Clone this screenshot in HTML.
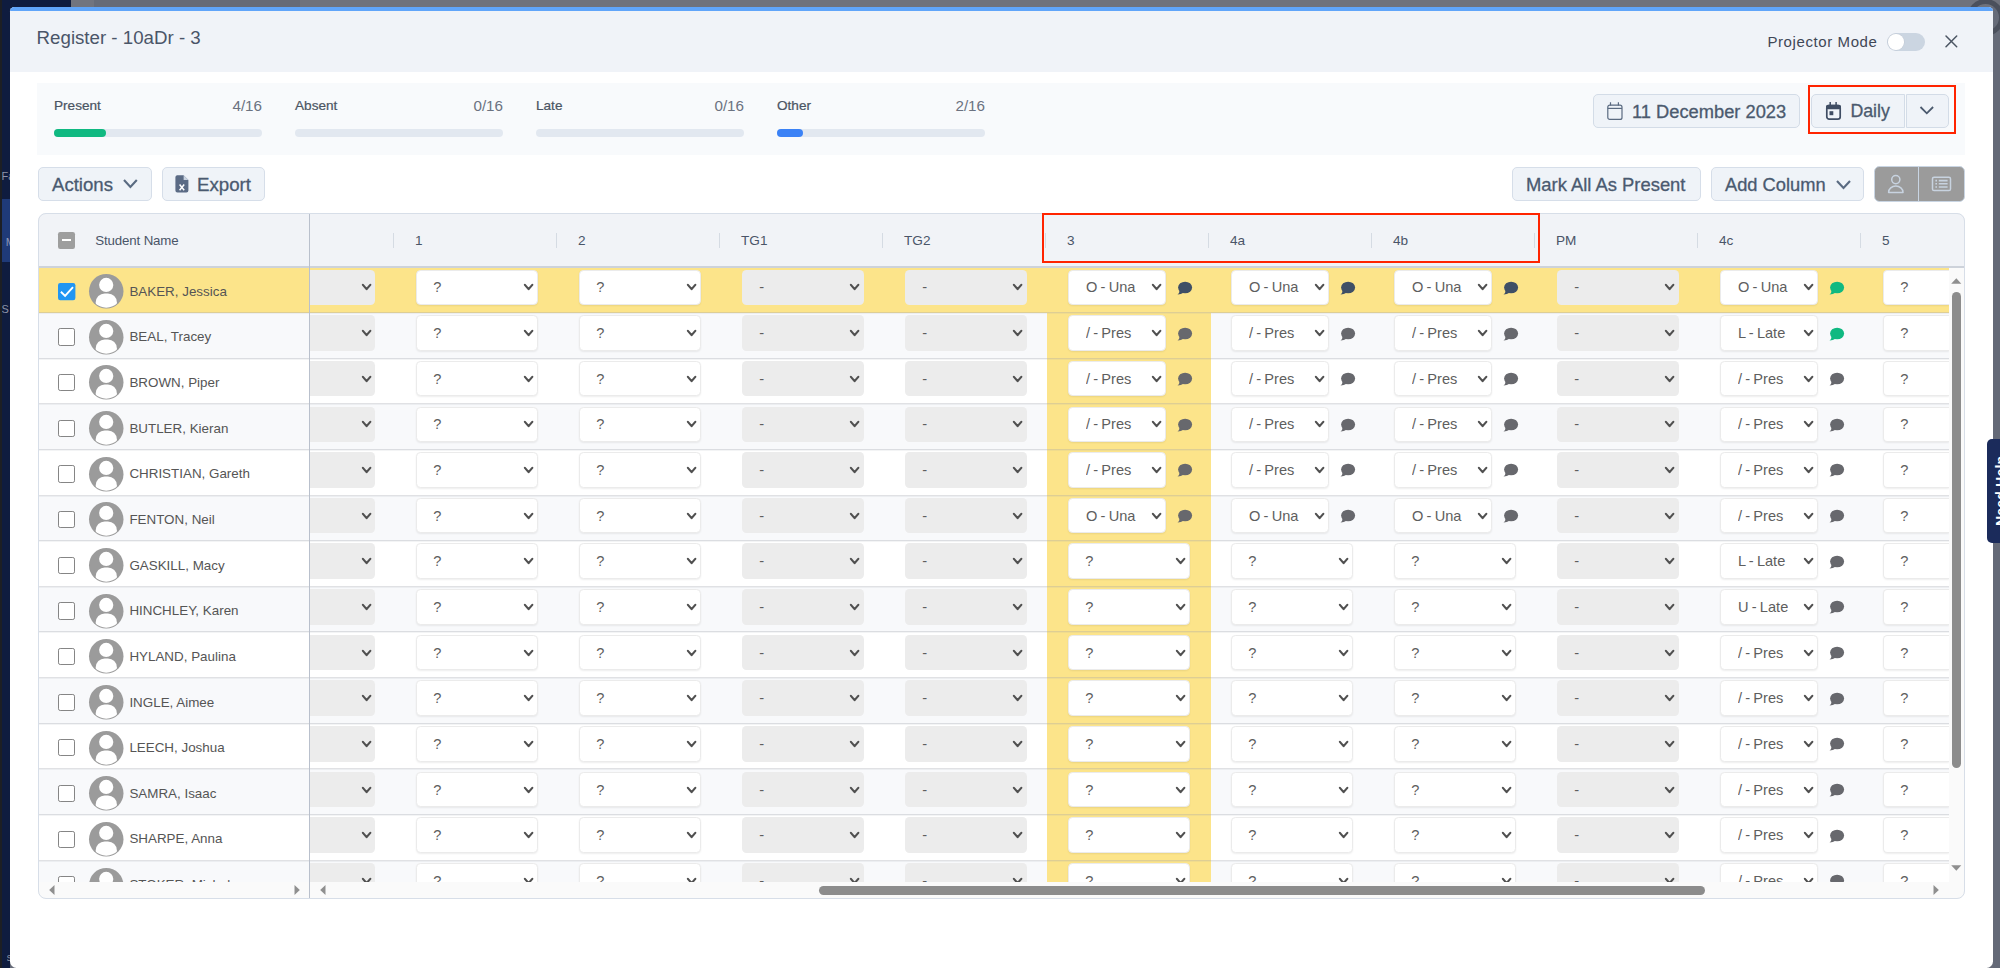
<!DOCTYPE html>
<html><head><meta charset="utf-8"><title>Register - 10aDr - 3</title>
<style>
html,body{margin:0;padding:0;width:2000px;height:968px;overflow:hidden;background:#666b78}
body{position:relative;font-family:"Liberation Sans", Arial, sans-serif}
.a{position:absolute}
.t{position:absolute;line-height:1;white-space:nowrap}
svg.a{overflow:visible}
</style></head><body>
<div class="a" style="left:0px;top:0px;width:2000px;height:968px;background:#666b78"></div>
<div class="a" style="left:71px;top:0px;width:23px;height:7px;background:#71747f"></div>
<div class="a" style="left:300px;top:0px;width:1700px;height:7px;background:#6f727c"></div>
<div class="a" style="left:0px;top:0px;width:10px;height:968px;background:#0f1c3f"></div>
<div class="a" style="left:0px;top:0px;width:71px;height:12px;background:#0f1c3f"></div>
<div class="a" style="left:0px;top:0px;width:1.5px;height:968px;background:#1d1f24"></div>
<div class="a" style="left:1.5px;top:199px;width:8.5px;height:63px;background:#1f3a78"></div>
<div class="t" style="left:1.5px;top:170.69px;font-size:11px;color:#8d93a6;font-weight:400;width:8.5px;overflow:hidden;">Fa</div>
<div class="t" style="left:5.7px;top:236.89px;font-size:11px;color:#8d98b8;font-weight:400;width:4.3px;overflow:hidden;">M</div>
<div class="t" style="left:1.5px;top:303.69px;font-size:11px;color:#8d93a6;font-weight:400;width:8.5px;overflow:hidden;">S</div>
<div class="t" style="left:6.5px;top:954.38px;font-size:9px;color:#8d93a6;font-weight:400;width:3.5px;overflow:hidden;">S</div>
<div class="a" style="left:1967px;top:-1px;width:27px;height:27px;border:5.5px solid #4b505c;border-radius:50%"></div>
<div class="a" style="left:1993px;top:50px;width:7px;height:918px;background:#646977"></div>
<div class="a" style="left:10px;top:7px;width:1983px;height:961.3px;background:#fff;border-radius:4.5px 4.5px 6.5px 6.5px;overflow:hidden"><div class="a" style="left:0;top:0;width:1983px;height:4.2px;background:#60a5fa"></div><div class="a" style="left:0;top:4.2px;width:1983px;height:60.8px;background:#f0f3f8"></div></div>
<div class="a" style="left:1987px;top:438.6px;width:20px;height:104.4px;background:#1b2b5b;border-radius:5px;overflow:hidden"><div class="t" style="left:7.3px;top:87.7px;font-size:14px;font-weight:700;color:#fff;transform:rotate(-90deg);transform-origin:0 0;white-space:nowrap;letter-spacing:0.2px">Need Help</div></div>
<div class="t" style="left:36.6px;top:28.77px;font-size:18.7px;color:#4a5568;font-weight:400;">Register - 10aDr - 3</div>
<div class="t" style="right:122.5px;text-align:right;top:33.9px;font-size:15px;color:#3f4756;font-weight:400;letter-spacing:0.6px;">Projector Mode</div>
<div class="a" style="left:1887px;top:32.5px;width:38px;height:18.5px;border-radius:9.25px;background:#cbd5e1"></div>
<div class="a" style="left:1888.4px;top:34px;width:15.5px;height:15.5px;border-radius:50%;background:#fff;box-shadow:0 0 0 0.5px #c0c8d4"></div>
<svg class="a" style="left:1944px;top:34px" width="15" height="15" viewBox="0 0 15 15"><path d="M2 2 L12.7 12.7 M12.7 2 L2 12.7" stroke="#4b5563" stroke-width="1.5" stroke-linecap="round"/></svg>
<div class="a" style="left:37px;top:82.5px;width:1928px;height:72px;background:#f8fafc"></div>
<div class="t" style="left:54px;top:99.49px;font-size:13.6px;color:#4b5563;font-weight:400;-webkit-text-stroke:0.22px #4b5563;">Present</div>
<div class="t" style="right:1738px;text-align:right;top:98.13px;font-size:15.2px;color:#6b7280;font-weight:400;">4/16</div>
<div class="a" style="left:54px;top:128.5px;width:208px;height:8.5px;background:#e2e8f0;border-radius:5px"></div>
<div class="a" style="left:54px;top:128.5px;width:52px;height:8.5px;background:#10b981;border-radius:5px"></div>
<div class="t" style="left:295px;top:99.49px;font-size:13.6px;color:#4b5563;font-weight:400;-webkit-text-stroke:0.22px #4b5563;">Absent</div>
<div class="t" style="right:1497px;text-align:right;top:98.13px;font-size:15.2px;color:#6b7280;font-weight:400;">0/16</div>
<div class="a" style="left:295px;top:128.5px;width:208px;height:8.5px;background:#e2e8f0;border-radius:5px"></div>
<div class="t" style="left:536px;top:99.49px;font-size:13.6px;color:#4b5563;font-weight:400;-webkit-text-stroke:0.22px #4b5563;">Late</div>
<div class="t" style="right:1256px;text-align:right;top:98.13px;font-size:15.2px;color:#6b7280;font-weight:400;">0/16</div>
<div class="a" style="left:536px;top:128.5px;width:208px;height:8.5px;background:#e2e8f0;border-radius:5px"></div>
<div class="t" style="left:777px;top:99.49px;font-size:13.6px;color:#4b5563;font-weight:400;-webkit-text-stroke:0.22px #4b5563;">Other</div>
<div class="t" style="right:1015px;text-align:right;top:98.13px;font-size:15.2px;color:#6b7280;font-weight:400;">2/16</div>
<div class="a" style="left:777px;top:128.5px;width:208px;height:8.5px;background:#e2e8f0;border-radius:5px"></div>
<div class="a" style="left:777px;top:128.5px;width:26px;height:8.5px;background:#3b82f6;border-radius:5px"></div>
<div class="a" style="left:1593px;top:94px;width:207px;height:34px;background:#eff3f8;border:1px solid #d3dce7;border-radius:5px;box-sizing:border-box"></div>
<svg class="a" style="left:1606px;top:101px" width="18" height="20" viewBox="0 0 18 20"><rect x="1.8" y="4.2" width="14.2" height="14.2" rx="2" fill="none" stroke="#5a6a80" stroke-width="1.2"/><path d="M1.8 7.4 H16" stroke="#5a6a80" stroke-width="1.2"/><path d="M4.5 1.2 V4.5 M12.4 1.2 V4.5" stroke="#5a6a80" stroke-width="1.2"/></svg>
<div class="t" style="left:1632px;top:102.81px;font-size:18.3px;color:#4b5a6e;font-weight:400;-webkit-text-stroke:0.3px #4b5a6e;">11 December 2023</div>
<div class="a" style="left:1811px;top:94px;width:94px;height:34px;background:#eff3f8;border:1px solid #d3dce7;border-radius:5px 0 0 5px;box-sizing:border-box"></div>
<div class="a" style="left:1906px;top:94px;width:43px;height:34px;background:#eff3f8;border:1px solid #d3dce7;border-radius:0 5px 5px 0;box-sizing:border-box"></div>
<svg class="a" style="left:1825px;top:101px" width="18" height="20" viewBox="0 0 18 20"><rect x="1.8" y="4.6" width="13.4" height="13.6" rx="2.4" fill="none" stroke="#3f4d63" stroke-width="1.7"/><rect x="1" y="3.8" width="15" height="4.4" rx="2" fill="#3f4d63"/><rect x="4.5" y="10.2" width="3.8" height="4" fill="#3f4d63"/><path d="M5.2 1 V4.5 M11.1 1 V4.5" stroke="#3f4d63" stroke-width="1.5"/></svg>
<div class="t" style="left:1850.4px;top:103.23px;font-size:17.8px;color:#4b5a6e;font-weight:400;-webkit-text-stroke:0.3px #4b5a6e;">Daily</div>
<svg class="a" style="left:1919px;top:105px" width="16" height="11" viewBox="0 0 16 11"><path d="M1.5 2 L7.8 8.3 L14.1 2" fill="none" stroke="#4b5a6e" stroke-width="1.8"/></svg>
<div class="a" style="left:1807.7px;top:84.7px;width:148.6px;height:49.6px;border:2.6px solid #ff2400;box-sizing:border-box"></div>
<div class="a" style="left:37.5px;top:166.5px;width:114.5px;height:34px;background:#eff3f8;border:1.5px solid #d6dee9;border-radius:5px;box-sizing:border-box"></div>
<div class="t" style="left:52px;top:175.66px;font-size:18.6px;color:#4a5a70;font-weight:400;-webkit-text-stroke:0.3px #4a5a70;">Actions</div>
<svg class="a" style="left:123.3px;top:178.9px" width="14.8" height="9" viewBox="0 0 14.8 9"><path d="M1 1 L7.4 8 L13.8 1" fill="none" stroke="#5a6b82" stroke-width="2.1"/></svg>
<div class="a" style="left:161.5px;top:166.5px;width:103.5px;height:34px;background:#eff3f8;border:1.5px solid #d6dee9;border-radius:5px;box-sizing:border-box"></div>
<svg class="a" style="left:175px;top:175px" width="14" height="18" viewBox="0 0 14 18"><path d="M2 0.3 H8.6 L13.4 5 V15.6 A2 2 0 0 1 11.4 17.6 H2.4 A2 2 0 0 1 0.4 15.6 V2.3 A2 2 0 0 1 2 0.3 Z" fill="#5b6b85"/><path d="M8.6 0.3 V5 H13.4" fill="#c9d3e0"/><path d="M4.6 9.6 L9.2 15.2 M9.2 9.6 L4.6 15.2" stroke="#fff" stroke-width="1.5"/></svg>
<div class="t" style="left:197px;top:175.57px;font-size:18.7px;color:#4a5a70;font-weight:400;-webkit-text-stroke:0.3px #4a5a70;">Export</div>
<div class="a" style="left:1511.5px;top:166.5px;width:189.5px;height:34px;background:#eff3f8;border:1.5px solid #d6dee9;border-radius:5px;box-sizing:border-box"></div>
<div class="t" style="left:1526px;top:175.82px;font-size:18.4px;color:#4a5a70;font-weight:400;-webkit-text-stroke:0.3px #4a5a70;">Mark All As Present</div>
<div class="a" style="left:1710.5px;top:166.5px;width:153.5px;height:34px;background:#eff3f8;border:1.5px solid #d6dee9;border-radius:5px;box-sizing:border-box"></div>
<div class="t" style="left:1725px;top:175.91px;font-size:18.3px;color:#4a5a70;font-weight:400;-webkit-text-stroke:0.3px #4a5a70;">Add Column</div>
<svg class="a" style="left:1835.5px;top:179.8px" width="15" height="9" viewBox="0 0 15 9"><path d="M1 1 L7.5 8 L14 1" fill="none" stroke="#5a6b82" stroke-width="2.1"/></svg>
<div class="a" style="left:1874px;top:166px;width:90.5px;height:35.6px;background:#9b9b9b;border:1px solid #c9d5e3;border-radius:5.5px;box-sizing:border-box"></div>
<div class="a" style="left:1917.8px;top:166.5px;width:1.1px;height:34.2px;background:#c9d5e3"></div>
<svg class="a" style="left:1886px;top:174px" width="20" height="20" viewBox="0 0 20 20"><circle cx="9.8" cy="5.6" r="4.1" fill="none" stroke="#c8d3e0" stroke-width="1.5"/><path d="M2.6 18.4 A7.2 6.4 0 0 1 17 18.4 Z" fill="none" stroke="#c8d3e0" stroke-width="1.5" stroke-linejoin="round"/></svg>
<svg class="a" style="left:1930px;top:175px" width="23" height="18" viewBox="0 0 23 18"><rect x="2.5" y="2.2" width="18" height="13.3" rx="1.6" fill="none" stroke="#c8d3e0" stroke-width="1.5"/><path d="M5.4 5.6 H7 M8.8 5.6 H17.6 M5.4 8.8 H7 M8.8 8.8 H17.6 M5.4 12 H7 M8.8 12 H17.6" stroke="#c8d3e0" stroke-width="1.6"/></svg>
<div class="a" style="left:37.5px;top:212.8px;width:1927.5px;height:686.2px;overflow:hidden;border-radius:8px;background:#fff">
<div class="a" style="left:0px;top:0px;width:1927.5px;height:54.7px;background:#f1f3f7"></div>
<div class="a" style="left:0px;top:54.5px;width:1911px;height:45.65px;background:#fce48a"></div>
<div class="a" style="left:0px;top:100.15px;width:1911px;height:45.65px;background:#f8f9fb"></div>
<div class="a" style="left:0px;top:145.8px;width:1911px;height:45.65px;background:#ffffff"></div>
<div class="a" style="left:0px;top:191.45px;width:1911px;height:45.65px;background:#f8f9fb"></div>
<div class="a" style="left:0px;top:237.1px;width:1911px;height:45.65px;background:#ffffff"></div>
<div class="a" style="left:0px;top:282.75px;width:1911px;height:45.65px;background:#f8f9fb"></div>
<div class="a" style="left:0px;top:328.4px;width:1911px;height:45.65px;background:#ffffff"></div>
<div class="a" style="left:0px;top:374.05px;width:1911px;height:45.65px;background:#f8f9fb"></div>
<div class="a" style="left:0px;top:419.7px;width:1911px;height:45.65px;background:#ffffff"></div>
<div class="a" style="left:0px;top:465.35px;width:1911px;height:45.65px;background:#f8f9fb"></div>
<div class="a" style="left:0px;top:511px;width:1911px;height:45.65px;background:#ffffff"></div>
<div class="a" style="left:0px;top:556.65px;width:1911px;height:45.65px;background:#f8f9fb"></div>
<div class="a" style="left:0px;top:602.3px;width:1911px;height:45.65px;background:#ffffff"></div>
<div class="a" style="left:0px;top:647.95px;width:1911px;height:21.25px;background:#f8f9fb"></div>
<div class="a" style="left:1009.8px;top:54.7px;width:163.3px;height:614.5px;background:#fce48a"></div>
<div class="a" style="left:0px;top:99.15px;width:1911px;height:1px;background:rgba(160,162,170,0.32)"></div>
<div class="a" style="left:0px;top:100.15px;width:1911px;height:1px;background:rgba(160,162,170,0.12)"></div>
<div class="a" style="left:0px;top:144.8px;width:1911px;height:1px;background:rgba(160,162,170,0.32)"></div>
<div class="a" style="left:0px;top:145.8px;width:1911px;height:1px;background:rgba(160,162,170,0.12)"></div>
<div class="a" style="left:0px;top:190.45px;width:1911px;height:1px;background:rgba(160,162,170,0.32)"></div>
<div class="a" style="left:0px;top:191.45px;width:1911px;height:1px;background:rgba(160,162,170,0.12)"></div>
<div class="a" style="left:0px;top:236.1px;width:1911px;height:1px;background:rgba(160,162,170,0.32)"></div>
<div class="a" style="left:0px;top:237.1px;width:1911px;height:1px;background:rgba(160,162,170,0.12)"></div>
<div class="a" style="left:0px;top:281.75px;width:1911px;height:1px;background:rgba(160,162,170,0.32)"></div>
<div class="a" style="left:0px;top:282.75px;width:1911px;height:1px;background:rgba(160,162,170,0.12)"></div>
<div class="a" style="left:0px;top:327.4px;width:1911px;height:1px;background:rgba(160,162,170,0.32)"></div>
<div class="a" style="left:0px;top:328.4px;width:1911px;height:1px;background:rgba(160,162,170,0.12)"></div>
<div class="a" style="left:0px;top:373.05px;width:1911px;height:1px;background:rgba(160,162,170,0.32)"></div>
<div class="a" style="left:0px;top:374.05px;width:1911px;height:1px;background:rgba(160,162,170,0.12)"></div>
<div class="a" style="left:0px;top:418.7px;width:1911px;height:1px;background:rgba(160,162,170,0.32)"></div>
<div class="a" style="left:0px;top:419.7px;width:1911px;height:1px;background:rgba(160,162,170,0.12)"></div>
<div class="a" style="left:0px;top:464.35px;width:1911px;height:1px;background:rgba(160,162,170,0.32)"></div>
<div class="a" style="left:0px;top:465.35px;width:1911px;height:1px;background:rgba(160,162,170,0.12)"></div>
<div class="a" style="left:0px;top:510px;width:1911px;height:1px;background:rgba(160,162,170,0.32)"></div>
<div class="a" style="left:0px;top:511px;width:1911px;height:1px;background:rgba(160,162,170,0.12)"></div>
<div class="a" style="left:0px;top:555.65px;width:1911px;height:1px;background:rgba(160,162,170,0.32)"></div>
<div class="a" style="left:0px;top:556.65px;width:1911px;height:1px;background:rgba(160,162,170,0.12)"></div>
<div class="a" style="left:0px;top:601.3px;width:1911px;height:1px;background:rgba(160,162,170,0.32)"></div>
<div class="a" style="left:0px;top:602.3px;width:1911px;height:1px;background:rgba(160,162,170,0.12)"></div>
<div class="a" style="left:0px;top:646.95px;width:1911px;height:1px;background:rgba(160,162,170,0.32)"></div>
<div class="a" style="left:0px;top:647.95px;width:1911px;height:1px;background:rgba(160,162,170,0.12)"></div>
<div class="a" style="left:272.6px;top:56.8px;width:65.4px;height:35.6px;background:#ececec;border-radius:0px 4.5px 4.5px 0px"></div>
<svg class="a" style="left:324.4px;top:70.6px" width="10.4" height="8" viewBox="0 0 10.4 8"><path d="M0.9 1.85 L4.6 6.1 L8.3 1.85" fill="none" stroke="#505050" stroke-width="2.2" stroke-linecap="round" stroke-linejoin="round"/></svg>
<div class="a" style="left:378px;top:56.8px;width:122.5px;height:35.6px;background:#fff;border:1px solid #ebebeb;border-radius:4.5px 4.5px 4.5px 4.5px;box-sizing:border-box;box-shadow:0 1px 2px rgba(0,0,0,0.07)"></div>
<div class="t" style="left:395.8px;top:67.59px;font-size:14.6px;color:#5e5e5e;font-weight:400;">?</div>
<svg class="a" style="left:486.9px;top:70.6px" width="10.4" height="8" viewBox="0 0 10.4 8"><path d="M0.9 1.85 L4.6 6.1 L8.3 1.85" fill="none" stroke="#505050" stroke-width="2.2" stroke-linecap="round" stroke-linejoin="round"/></svg>
<div class="a" style="left:541px;top:56.8px;width:122.5px;height:35.6px;background:#fff;border:1px solid #ebebeb;border-radius:4.5px 4.5px 4.5px 4.5px;box-sizing:border-box;box-shadow:0 1px 2px rgba(0,0,0,0.07)"></div>
<div class="t" style="left:558.8px;top:67.59px;font-size:14.6px;color:#5e5e5e;font-weight:400;">?</div>
<svg class="a" style="left:649.9px;top:70.6px" width="10.4" height="8" viewBox="0 0 10.4 8"><path d="M0.9 1.85 L4.6 6.1 L8.3 1.85" fill="none" stroke="#505050" stroke-width="2.2" stroke-linecap="round" stroke-linejoin="round"/></svg>
<div class="a" style="left:704px;top:56.8px;width:122.5px;height:35.6px;background:#ececec;border-radius:4.5px 4.5px 4.5px 4.5px"></div>
<div class="t" style="left:721.8px;top:67.59px;font-size:14.6px;color:#5e5e5e;font-weight:400;">-</div>
<svg class="a" style="left:812.9px;top:70.6px" width="10.4" height="8" viewBox="0 0 10.4 8"><path d="M0.9 1.85 L4.6 6.1 L8.3 1.85" fill="none" stroke="#505050" stroke-width="2.2" stroke-linecap="round" stroke-linejoin="round"/></svg>
<div class="a" style="left:867px;top:56.8px;width:122.5px;height:35.6px;background:#ececec;border-radius:4.5px 4.5px 4.5px 4.5px"></div>
<div class="t" style="left:884.8px;top:67.59px;font-size:14.6px;color:#5e5e5e;font-weight:400;">-</div>
<svg class="a" style="left:975.9px;top:70.6px" width="10.4" height="8" viewBox="0 0 10.4 8"><path d="M0.9 1.85 L4.6 6.1 L8.3 1.85" fill="none" stroke="#505050" stroke-width="2.2" stroke-linecap="round" stroke-linejoin="round"/></svg>
<div class="a" style="left:1030.65px;top:56.8px;width:97.6px;height:35.6px;background:#fff;border:1px solid #ebebeb;border-radius:4.5px 4.5px 4.5px 4.5px;box-sizing:border-box;box-shadow:0 1px 2px rgba(0,0,0,0.07)"></div>
<div class="t" style="left:1048.45px;top:67.59px;font-size:14.6px;color:#5e5e5e;font-weight:400;width:49.6px;overflow:hidden;white-space:nowrap;word-spacing:-0.8px;">O - Una</div>
<svg class="a" style="left:1114.65px;top:70.6px" width="10.4" height="8" viewBox="0 0 10.4 8"><path d="M0.9 1.85 L4.6 6.1 L8.3 1.85" fill="none" stroke="#505050" stroke-width="2.2" stroke-linecap="round" stroke-linejoin="round"/></svg>
<svg class="a" style="left:1139.15px;top:68.1px" width="16" height="15" viewBox="0 0 16 15"><ellipse cx="8.1" cy="6.5" rx="7" ry="5.85" fill="#3f4f66"/><path d="M2.6 9.2 Q2.6 12 0.5 13.6 Q4.2 13.4 6.4 11.7 Z" fill="#3f4f66"/></svg>
<div class="a" style="left:1193.65px;top:56.8px;width:97.6px;height:35.6px;background:#fff;border:1px solid #ebebeb;border-radius:4.5px 4.5px 4.5px 4.5px;box-sizing:border-box;box-shadow:0 1px 2px rgba(0,0,0,0.07)"></div>
<div class="t" style="left:1211.45px;top:67.59px;font-size:14.6px;color:#5e5e5e;font-weight:400;width:49.6px;overflow:hidden;white-space:nowrap;word-spacing:-0.8px;">O - Una</div>
<svg class="a" style="left:1277.65px;top:70.6px" width="10.4" height="8" viewBox="0 0 10.4 8"><path d="M0.9 1.85 L4.6 6.1 L8.3 1.85" fill="none" stroke="#505050" stroke-width="2.2" stroke-linecap="round" stroke-linejoin="round"/></svg>
<svg class="a" style="left:1302.15px;top:68.1px" width="16" height="15" viewBox="0 0 16 15"><ellipse cx="8.1" cy="6.5" rx="7" ry="5.85" fill="#3f4f66"/><path d="M2.6 9.2 Q2.6 12 0.5 13.6 Q4.2 13.4 6.4 11.7 Z" fill="#3f4f66"/></svg>
<div class="a" style="left:1356.65px;top:56.8px;width:97.6px;height:35.6px;background:#fff;border:1px solid #ebebeb;border-radius:4.5px 4.5px 4.5px 4.5px;box-sizing:border-box;box-shadow:0 1px 2px rgba(0,0,0,0.07)"></div>
<div class="t" style="left:1374.45px;top:67.59px;font-size:14.6px;color:#5e5e5e;font-weight:400;width:49.6px;overflow:hidden;white-space:nowrap;word-spacing:-0.8px;">O - Una</div>
<svg class="a" style="left:1440.65px;top:70.6px" width="10.4" height="8" viewBox="0 0 10.4 8"><path d="M0.9 1.85 L4.6 6.1 L8.3 1.85" fill="none" stroke="#505050" stroke-width="2.2" stroke-linecap="round" stroke-linejoin="round"/></svg>
<svg class="a" style="left:1465.15px;top:68.1px" width="16" height="15" viewBox="0 0 16 15"><ellipse cx="8.1" cy="6.5" rx="7" ry="5.85" fill="#3f4f66"/><path d="M2.6 9.2 Q2.6 12 0.5 13.6 Q4.2 13.4 6.4 11.7 Z" fill="#3f4f66"/></svg>
<div class="a" style="left:1519px;top:56.8px;width:122.5px;height:35.6px;background:#ececec;border-radius:4.5px 4.5px 4.5px 4.5px"></div>
<div class="t" style="left:1536.8px;top:67.59px;font-size:14.6px;color:#5e5e5e;font-weight:400;">-</div>
<svg class="a" style="left:1627.9px;top:70.6px" width="10.4" height="8" viewBox="0 0 10.4 8"><path d="M0.9 1.85 L4.6 6.1 L8.3 1.85" fill="none" stroke="#505050" stroke-width="2.2" stroke-linecap="round" stroke-linejoin="round"/></svg>
<div class="a" style="left:1682.65px;top:56.8px;width:97.6px;height:35.6px;background:#fff;border:1px solid #ebebeb;border-radius:4.5px 4.5px 4.5px 4.5px;box-sizing:border-box;box-shadow:0 1px 2px rgba(0,0,0,0.07)"></div>
<div class="t" style="left:1700.45px;top:67.59px;font-size:14.6px;color:#5e5e5e;font-weight:400;width:49.6px;overflow:hidden;white-space:nowrap;word-spacing:-0.8px;">O - Una</div>
<svg class="a" style="left:1766.65px;top:70.6px" width="10.4" height="8" viewBox="0 0 10.4 8"><path d="M0.9 1.85 L4.6 6.1 L8.3 1.85" fill="none" stroke="#505050" stroke-width="2.2" stroke-linecap="round" stroke-linejoin="round"/></svg>
<svg class="a" style="left:1791.15px;top:68.1px" width="16" height="15" viewBox="0 0 16 15"><ellipse cx="8.1" cy="6.5" rx="7" ry="5.85" fill="#10b981"/><path d="M2.6 9.2 Q2.6 12 0.5 13.6 Q4.2 13.4 6.4 11.7 Z" fill="#10b981"/></svg>
<div class="a" style="left:1845px;top:56.8px;width:66px;height:35.6px;background:#fff;border:1px solid #ebebeb;border-radius:4.5px 0px 0px 4.5px;box-sizing:border-box;box-shadow:0 1px 2px rgba(0,0,0,0.07);border-right:none"></div>
<div class="t" style="left:1862.8px;top:67.59px;font-size:14.6px;color:#5e5e5e;font-weight:400;">?</div>
<div class="a" style="left:272.6px;top:102.45px;width:65.4px;height:35.6px;background:#ececec;border-radius:0px 4.5px 4.5px 0px"></div>
<svg class="a" style="left:324.4px;top:116.25px" width="10.4" height="8" viewBox="0 0 10.4 8"><path d="M0.9 1.85 L4.6 6.1 L8.3 1.85" fill="none" stroke="#505050" stroke-width="2.2" stroke-linecap="round" stroke-linejoin="round"/></svg>
<div class="a" style="left:378px;top:102.45px;width:122.5px;height:35.6px;background:#fff;border:1px solid #ebebeb;border-radius:4.5px 4.5px 4.5px 4.5px;box-sizing:border-box;box-shadow:0 1px 2px rgba(0,0,0,0.07)"></div>
<div class="t" style="left:395.8px;top:113.24px;font-size:14.6px;color:#5e5e5e;font-weight:400;">?</div>
<svg class="a" style="left:486.9px;top:116.25px" width="10.4" height="8" viewBox="0 0 10.4 8"><path d="M0.9 1.85 L4.6 6.1 L8.3 1.85" fill="none" stroke="#505050" stroke-width="2.2" stroke-linecap="round" stroke-linejoin="round"/></svg>
<div class="a" style="left:541px;top:102.45px;width:122.5px;height:35.6px;background:#fff;border:1px solid #ebebeb;border-radius:4.5px 4.5px 4.5px 4.5px;box-sizing:border-box;box-shadow:0 1px 2px rgba(0,0,0,0.07)"></div>
<div class="t" style="left:558.8px;top:113.24px;font-size:14.6px;color:#5e5e5e;font-weight:400;">?</div>
<svg class="a" style="left:649.9px;top:116.25px" width="10.4" height="8" viewBox="0 0 10.4 8"><path d="M0.9 1.85 L4.6 6.1 L8.3 1.85" fill="none" stroke="#505050" stroke-width="2.2" stroke-linecap="round" stroke-linejoin="round"/></svg>
<div class="a" style="left:704px;top:102.45px;width:122.5px;height:35.6px;background:#ececec;border-radius:4.5px 4.5px 4.5px 4.5px"></div>
<div class="t" style="left:721.8px;top:113.24px;font-size:14.6px;color:#5e5e5e;font-weight:400;">-</div>
<svg class="a" style="left:812.9px;top:116.25px" width="10.4" height="8" viewBox="0 0 10.4 8"><path d="M0.9 1.85 L4.6 6.1 L8.3 1.85" fill="none" stroke="#505050" stroke-width="2.2" stroke-linecap="round" stroke-linejoin="round"/></svg>
<div class="a" style="left:867px;top:102.45px;width:122.5px;height:35.6px;background:#ececec;border-radius:4.5px 4.5px 4.5px 4.5px"></div>
<div class="t" style="left:884.8px;top:113.24px;font-size:14.6px;color:#5e5e5e;font-weight:400;">-</div>
<svg class="a" style="left:975.9px;top:116.25px" width="10.4" height="8" viewBox="0 0 10.4 8"><path d="M0.9 1.85 L4.6 6.1 L8.3 1.85" fill="none" stroke="#505050" stroke-width="2.2" stroke-linecap="round" stroke-linejoin="round"/></svg>
<div class="a" style="left:1030.65px;top:102.45px;width:97.6px;height:35.6px;background:#fff;border:1px solid #ebebeb;border-radius:4.5px 4.5px 4.5px 4.5px;box-sizing:border-box;box-shadow:0 1px 2px rgba(0,0,0,0.07)"></div>
<div class="t" style="left:1048.45px;top:113.24px;font-size:14.6px;color:#5e5e5e;font-weight:400;width:49.6px;overflow:hidden;white-space:nowrap;word-spacing:-0.8px;">/ - Pres</div>
<svg class="a" style="left:1114.65px;top:116.25px" width="10.4" height="8" viewBox="0 0 10.4 8"><path d="M0.9 1.85 L4.6 6.1 L8.3 1.85" fill="none" stroke="#505050" stroke-width="2.2" stroke-linecap="round" stroke-linejoin="round"/></svg>
<svg class="a" style="left:1139.15px;top:113.75px" width="16" height="15" viewBox="0 0 16 15"><ellipse cx="8.1" cy="6.5" rx="7" ry="5.85" fill="#67686d"/><path d="M2.6 9.2 Q2.6 12 0.5 13.6 Q4.2 13.4 6.4 11.7 Z" fill="#67686d"/></svg>
<div class="a" style="left:1193.65px;top:102.45px;width:97.6px;height:35.6px;background:#fff;border:1px solid #ebebeb;border-radius:4.5px 4.5px 4.5px 4.5px;box-sizing:border-box;box-shadow:0 1px 2px rgba(0,0,0,0.07)"></div>
<div class="t" style="left:1211.45px;top:113.24px;font-size:14.6px;color:#5e5e5e;font-weight:400;width:49.6px;overflow:hidden;white-space:nowrap;word-spacing:-0.8px;">/ - Pres</div>
<svg class="a" style="left:1277.65px;top:116.25px" width="10.4" height="8" viewBox="0 0 10.4 8"><path d="M0.9 1.85 L4.6 6.1 L8.3 1.85" fill="none" stroke="#505050" stroke-width="2.2" stroke-linecap="round" stroke-linejoin="round"/></svg>
<svg class="a" style="left:1302.15px;top:113.75px" width="16" height="15" viewBox="0 0 16 15"><ellipse cx="8.1" cy="6.5" rx="7" ry="5.85" fill="#67686d"/><path d="M2.6 9.2 Q2.6 12 0.5 13.6 Q4.2 13.4 6.4 11.7 Z" fill="#67686d"/></svg>
<div class="a" style="left:1356.65px;top:102.45px;width:97.6px;height:35.6px;background:#fff;border:1px solid #ebebeb;border-radius:4.5px 4.5px 4.5px 4.5px;box-sizing:border-box;box-shadow:0 1px 2px rgba(0,0,0,0.07)"></div>
<div class="t" style="left:1374.45px;top:113.24px;font-size:14.6px;color:#5e5e5e;font-weight:400;width:49.6px;overflow:hidden;white-space:nowrap;word-spacing:-0.8px;">/ - Pres</div>
<svg class="a" style="left:1440.65px;top:116.25px" width="10.4" height="8" viewBox="0 0 10.4 8"><path d="M0.9 1.85 L4.6 6.1 L8.3 1.85" fill="none" stroke="#505050" stroke-width="2.2" stroke-linecap="round" stroke-linejoin="round"/></svg>
<svg class="a" style="left:1465.15px;top:113.75px" width="16" height="15" viewBox="0 0 16 15"><ellipse cx="8.1" cy="6.5" rx="7" ry="5.85" fill="#67686d"/><path d="M2.6 9.2 Q2.6 12 0.5 13.6 Q4.2 13.4 6.4 11.7 Z" fill="#67686d"/></svg>
<div class="a" style="left:1519px;top:102.45px;width:122.5px;height:35.6px;background:#ececec;border-radius:4.5px 4.5px 4.5px 4.5px"></div>
<div class="t" style="left:1536.8px;top:113.24px;font-size:14.6px;color:#5e5e5e;font-weight:400;">-</div>
<svg class="a" style="left:1627.9px;top:116.25px" width="10.4" height="8" viewBox="0 0 10.4 8"><path d="M0.9 1.85 L4.6 6.1 L8.3 1.85" fill="none" stroke="#505050" stroke-width="2.2" stroke-linecap="round" stroke-linejoin="round"/></svg>
<div class="a" style="left:1682.65px;top:102.45px;width:97.6px;height:35.6px;background:#fff;border:1px solid #ebebeb;border-radius:4.5px 4.5px 4.5px 4.5px;box-sizing:border-box;box-shadow:0 1px 2px rgba(0,0,0,0.07)"></div>
<div class="t" style="left:1700.45px;top:113.24px;font-size:14.6px;color:#5e5e5e;font-weight:400;width:49.6px;overflow:hidden;white-space:nowrap;word-spacing:-0.8px;">L - Late</div>
<svg class="a" style="left:1766.65px;top:116.25px" width="10.4" height="8" viewBox="0 0 10.4 8"><path d="M0.9 1.85 L4.6 6.1 L8.3 1.85" fill="none" stroke="#505050" stroke-width="2.2" stroke-linecap="round" stroke-linejoin="round"/></svg>
<svg class="a" style="left:1791.15px;top:113.75px" width="16" height="15" viewBox="0 0 16 15"><ellipse cx="8.1" cy="6.5" rx="7" ry="5.85" fill="#10b981"/><path d="M2.6 9.2 Q2.6 12 0.5 13.6 Q4.2 13.4 6.4 11.7 Z" fill="#10b981"/></svg>
<div class="a" style="left:1845px;top:102.45px;width:66px;height:35.6px;background:#fff;border:1px solid #ebebeb;border-radius:4.5px 0px 0px 4.5px;box-sizing:border-box;box-shadow:0 1px 2px rgba(0,0,0,0.07);border-right:none"></div>
<div class="t" style="left:1862.8px;top:113.24px;font-size:14.6px;color:#5e5e5e;font-weight:400;">?</div>
<div class="a" style="left:272.6px;top:148.1px;width:65.4px;height:35.6px;background:#ececec;border-radius:0px 4.5px 4.5px 0px"></div>
<svg class="a" style="left:324.4px;top:161.9px" width="10.4" height="8" viewBox="0 0 10.4 8"><path d="M0.9 1.85 L4.6 6.1 L8.3 1.85" fill="none" stroke="#505050" stroke-width="2.2" stroke-linecap="round" stroke-linejoin="round"/></svg>
<div class="a" style="left:378px;top:148.1px;width:122.5px;height:35.6px;background:#fff;border:1px solid #ebebeb;border-radius:4.5px 4.5px 4.5px 4.5px;box-sizing:border-box;box-shadow:0 1px 2px rgba(0,0,0,0.07)"></div>
<div class="t" style="left:395.8px;top:158.89px;font-size:14.6px;color:#5e5e5e;font-weight:400;">?</div>
<svg class="a" style="left:486.9px;top:161.9px" width="10.4" height="8" viewBox="0 0 10.4 8"><path d="M0.9 1.85 L4.6 6.1 L8.3 1.85" fill="none" stroke="#505050" stroke-width="2.2" stroke-linecap="round" stroke-linejoin="round"/></svg>
<div class="a" style="left:541px;top:148.1px;width:122.5px;height:35.6px;background:#fff;border:1px solid #ebebeb;border-radius:4.5px 4.5px 4.5px 4.5px;box-sizing:border-box;box-shadow:0 1px 2px rgba(0,0,0,0.07)"></div>
<div class="t" style="left:558.8px;top:158.89px;font-size:14.6px;color:#5e5e5e;font-weight:400;">?</div>
<svg class="a" style="left:649.9px;top:161.9px" width="10.4" height="8" viewBox="0 0 10.4 8"><path d="M0.9 1.85 L4.6 6.1 L8.3 1.85" fill="none" stroke="#505050" stroke-width="2.2" stroke-linecap="round" stroke-linejoin="round"/></svg>
<div class="a" style="left:704px;top:148.1px;width:122.5px;height:35.6px;background:#ececec;border-radius:4.5px 4.5px 4.5px 4.5px"></div>
<div class="t" style="left:721.8px;top:158.89px;font-size:14.6px;color:#5e5e5e;font-weight:400;">-</div>
<svg class="a" style="left:812.9px;top:161.9px" width="10.4" height="8" viewBox="0 0 10.4 8"><path d="M0.9 1.85 L4.6 6.1 L8.3 1.85" fill="none" stroke="#505050" stroke-width="2.2" stroke-linecap="round" stroke-linejoin="round"/></svg>
<div class="a" style="left:867px;top:148.1px;width:122.5px;height:35.6px;background:#ececec;border-radius:4.5px 4.5px 4.5px 4.5px"></div>
<div class="t" style="left:884.8px;top:158.89px;font-size:14.6px;color:#5e5e5e;font-weight:400;">-</div>
<svg class="a" style="left:975.9px;top:161.9px" width="10.4" height="8" viewBox="0 0 10.4 8"><path d="M0.9 1.85 L4.6 6.1 L8.3 1.85" fill="none" stroke="#505050" stroke-width="2.2" stroke-linecap="round" stroke-linejoin="round"/></svg>
<div class="a" style="left:1030.65px;top:148.1px;width:97.6px;height:35.6px;background:#fff;border:1px solid #ebebeb;border-radius:4.5px 4.5px 4.5px 4.5px;box-sizing:border-box;box-shadow:0 1px 2px rgba(0,0,0,0.07)"></div>
<div class="t" style="left:1048.45px;top:158.89px;font-size:14.6px;color:#5e5e5e;font-weight:400;width:49.6px;overflow:hidden;white-space:nowrap;word-spacing:-0.8px;">/ - Pres</div>
<svg class="a" style="left:1114.65px;top:161.9px" width="10.4" height="8" viewBox="0 0 10.4 8"><path d="M0.9 1.85 L4.6 6.1 L8.3 1.85" fill="none" stroke="#505050" stroke-width="2.2" stroke-linecap="round" stroke-linejoin="round"/></svg>
<svg class="a" style="left:1139.15px;top:159.4px" width="16" height="15" viewBox="0 0 16 15"><ellipse cx="8.1" cy="6.5" rx="7" ry="5.85" fill="#67686d"/><path d="M2.6 9.2 Q2.6 12 0.5 13.6 Q4.2 13.4 6.4 11.7 Z" fill="#67686d"/></svg>
<div class="a" style="left:1193.65px;top:148.1px;width:97.6px;height:35.6px;background:#fff;border:1px solid #ebebeb;border-radius:4.5px 4.5px 4.5px 4.5px;box-sizing:border-box;box-shadow:0 1px 2px rgba(0,0,0,0.07)"></div>
<div class="t" style="left:1211.45px;top:158.89px;font-size:14.6px;color:#5e5e5e;font-weight:400;width:49.6px;overflow:hidden;white-space:nowrap;word-spacing:-0.8px;">/ - Pres</div>
<svg class="a" style="left:1277.65px;top:161.9px" width="10.4" height="8" viewBox="0 0 10.4 8"><path d="M0.9 1.85 L4.6 6.1 L8.3 1.85" fill="none" stroke="#505050" stroke-width="2.2" stroke-linecap="round" stroke-linejoin="round"/></svg>
<svg class="a" style="left:1302.15px;top:159.4px" width="16" height="15" viewBox="0 0 16 15"><ellipse cx="8.1" cy="6.5" rx="7" ry="5.85" fill="#67686d"/><path d="M2.6 9.2 Q2.6 12 0.5 13.6 Q4.2 13.4 6.4 11.7 Z" fill="#67686d"/></svg>
<div class="a" style="left:1356.65px;top:148.1px;width:97.6px;height:35.6px;background:#fff;border:1px solid #ebebeb;border-radius:4.5px 4.5px 4.5px 4.5px;box-sizing:border-box;box-shadow:0 1px 2px rgba(0,0,0,0.07)"></div>
<div class="t" style="left:1374.45px;top:158.89px;font-size:14.6px;color:#5e5e5e;font-weight:400;width:49.6px;overflow:hidden;white-space:nowrap;word-spacing:-0.8px;">/ - Pres</div>
<svg class="a" style="left:1440.65px;top:161.9px" width="10.4" height="8" viewBox="0 0 10.4 8"><path d="M0.9 1.85 L4.6 6.1 L8.3 1.85" fill="none" stroke="#505050" stroke-width="2.2" stroke-linecap="round" stroke-linejoin="round"/></svg>
<svg class="a" style="left:1465.15px;top:159.4px" width="16" height="15" viewBox="0 0 16 15"><ellipse cx="8.1" cy="6.5" rx="7" ry="5.85" fill="#67686d"/><path d="M2.6 9.2 Q2.6 12 0.5 13.6 Q4.2 13.4 6.4 11.7 Z" fill="#67686d"/></svg>
<div class="a" style="left:1519px;top:148.1px;width:122.5px;height:35.6px;background:#ececec;border-radius:4.5px 4.5px 4.5px 4.5px"></div>
<div class="t" style="left:1536.8px;top:158.89px;font-size:14.6px;color:#5e5e5e;font-weight:400;">-</div>
<svg class="a" style="left:1627.9px;top:161.9px" width="10.4" height="8" viewBox="0 0 10.4 8"><path d="M0.9 1.85 L4.6 6.1 L8.3 1.85" fill="none" stroke="#505050" stroke-width="2.2" stroke-linecap="round" stroke-linejoin="round"/></svg>
<div class="a" style="left:1682.65px;top:148.1px;width:97.6px;height:35.6px;background:#fff;border:1px solid #ebebeb;border-radius:4.5px 4.5px 4.5px 4.5px;box-sizing:border-box;box-shadow:0 1px 2px rgba(0,0,0,0.07)"></div>
<div class="t" style="left:1700.45px;top:158.89px;font-size:14.6px;color:#5e5e5e;font-weight:400;width:49.6px;overflow:hidden;white-space:nowrap;word-spacing:-0.8px;">/ - Pres</div>
<svg class="a" style="left:1766.65px;top:161.9px" width="10.4" height="8" viewBox="0 0 10.4 8"><path d="M0.9 1.85 L4.6 6.1 L8.3 1.85" fill="none" stroke="#505050" stroke-width="2.2" stroke-linecap="round" stroke-linejoin="round"/></svg>
<svg class="a" style="left:1791.15px;top:159.4px" width="16" height="15" viewBox="0 0 16 15"><ellipse cx="8.1" cy="6.5" rx="7" ry="5.85" fill="#67686d"/><path d="M2.6 9.2 Q2.6 12 0.5 13.6 Q4.2 13.4 6.4 11.7 Z" fill="#67686d"/></svg>
<div class="a" style="left:1845px;top:148.1px;width:66px;height:35.6px;background:#fff;border:1px solid #ebebeb;border-radius:4.5px 0px 0px 4.5px;box-sizing:border-box;box-shadow:0 1px 2px rgba(0,0,0,0.07);border-right:none"></div>
<div class="t" style="left:1862.8px;top:158.89px;font-size:14.6px;color:#5e5e5e;font-weight:400;">?</div>
<div class="a" style="left:272.6px;top:193.75px;width:65.4px;height:35.6px;background:#ececec;border-radius:0px 4.5px 4.5px 0px"></div>
<svg class="a" style="left:324.4px;top:207.55px" width="10.4" height="8" viewBox="0 0 10.4 8"><path d="M0.9 1.85 L4.6 6.1 L8.3 1.85" fill="none" stroke="#505050" stroke-width="2.2" stroke-linecap="round" stroke-linejoin="round"/></svg>
<div class="a" style="left:378px;top:193.75px;width:122.5px;height:35.6px;background:#fff;border:1px solid #ebebeb;border-radius:4.5px 4.5px 4.5px 4.5px;box-sizing:border-box;box-shadow:0 1px 2px rgba(0,0,0,0.07)"></div>
<div class="t" style="left:395.8px;top:204.54px;font-size:14.6px;color:#5e5e5e;font-weight:400;">?</div>
<svg class="a" style="left:486.9px;top:207.55px" width="10.4" height="8" viewBox="0 0 10.4 8"><path d="M0.9 1.85 L4.6 6.1 L8.3 1.85" fill="none" stroke="#505050" stroke-width="2.2" stroke-linecap="round" stroke-linejoin="round"/></svg>
<div class="a" style="left:541px;top:193.75px;width:122.5px;height:35.6px;background:#fff;border:1px solid #ebebeb;border-radius:4.5px 4.5px 4.5px 4.5px;box-sizing:border-box;box-shadow:0 1px 2px rgba(0,0,0,0.07)"></div>
<div class="t" style="left:558.8px;top:204.54px;font-size:14.6px;color:#5e5e5e;font-weight:400;">?</div>
<svg class="a" style="left:649.9px;top:207.55px" width="10.4" height="8" viewBox="0 0 10.4 8"><path d="M0.9 1.85 L4.6 6.1 L8.3 1.85" fill="none" stroke="#505050" stroke-width="2.2" stroke-linecap="round" stroke-linejoin="round"/></svg>
<div class="a" style="left:704px;top:193.75px;width:122.5px;height:35.6px;background:#ececec;border-radius:4.5px 4.5px 4.5px 4.5px"></div>
<div class="t" style="left:721.8px;top:204.54px;font-size:14.6px;color:#5e5e5e;font-weight:400;">-</div>
<svg class="a" style="left:812.9px;top:207.55px" width="10.4" height="8" viewBox="0 0 10.4 8"><path d="M0.9 1.85 L4.6 6.1 L8.3 1.85" fill="none" stroke="#505050" stroke-width="2.2" stroke-linecap="round" stroke-linejoin="round"/></svg>
<div class="a" style="left:867px;top:193.75px;width:122.5px;height:35.6px;background:#ececec;border-radius:4.5px 4.5px 4.5px 4.5px"></div>
<div class="t" style="left:884.8px;top:204.54px;font-size:14.6px;color:#5e5e5e;font-weight:400;">-</div>
<svg class="a" style="left:975.9px;top:207.55px" width="10.4" height="8" viewBox="0 0 10.4 8"><path d="M0.9 1.85 L4.6 6.1 L8.3 1.85" fill="none" stroke="#505050" stroke-width="2.2" stroke-linecap="round" stroke-linejoin="round"/></svg>
<div class="a" style="left:1030.65px;top:193.75px;width:97.6px;height:35.6px;background:#fff;border:1px solid #ebebeb;border-radius:4.5px 4.5px 4.5px 4.5px;box-sizing:border-box;box-shadow:0 1px 2px rgba(0,0,0,0.07)"></div>
<div class="t" style="left:1048.45px;top:204.54px;font-size:14.6px;color:#5e5e5e;font-weight:400;width:49.6px;overflow:hidden;white-space:nowrap;word-spacing:-0.8px;">/ - Pres</div>
<svg class="a" style="left:1114.65px;top:207.55px" width="10.4" height="8" viewBox="0 0 10.4 8"><path d="M0.9 1.85 L4.6 6.1 L8.3 1.85" fill="none" stroke="#505050" stroke-width="2.2" stroke-linecap="round" stroke-linejoin="round"/></svg>
<svg class="a" style="left:1139.15px;top:205.05px" width="16" height="15" viewBox="0 0 16 15"><ellipse cx="8.1" cy="6.5" rx="7" ry="5.85" fill="#67686d"/><path d="M2.6 9.2 Q2.6 12 0.5 13.6 Q4.2 13.4 6.4 11.7 Z" fill="#67686d"/></svg>
<div class="a" style="left:1193.65px;top:193.75px;width:97.6px;height:35.6px;background:#fff;border:1px solid #ebebeb;border-radius:4.5px 4.5px 4.5px 4.5px;box-sizing:border-box;box-shadow:0 1px 2px rgba(0,0,0,0.07)"></div>
<div class="t" style="left:1211.45px;top:204.54px;font-size:14.6px;color:#5e5e5e;font-weight:400;width:49.6px;overflow:hidden;white-space:nowrap;word-spacing:-0.8px;">/ - Pres</div>
<svg class="a" style="left:1277.65px;top:207.55px" width="10.4" height="8" viewBox="0 0 10.4 8"><path d="M0.9 1.85 L4.6 6.1 L8.3 1.85" fill="none" stroke="#505050" stroke-width="2.2" stroke-linecap="round" stroke-linejoin="round"/></svg>
<svg class="a" style="left:1302.15px;top:205.05px" width="16" height="15" viewBox="0 0 16 15"><ellipse cx="8.1" cy="6.5" rx="7" ry="5.85" fill="#67686d"/><path d="M2.6 9.2 Q2.6 12 0.5 13.6 Q4.2 13.4 6.4 11.7 Z" fill="#67686d"/></svg>
<div class="a" style="left:1356.65px;top:193.75px;width:97.6px;height:35.6px;background:#fff;border:1px solid #ebebeb;border-radius:4.5px 4.5px 4.5px 4.5px;box-sizing:border-box;box-shadow:0 1px 2px rgba(0,0,0,0.07)"></div>
<div class="t" style="left:1374.45px;top:204.54px;font-size:14.6px;color:#5e5e5e;font-weight:400;width:49.6px;overflow:hidden;white-space:nowrap;word-spacing:-0.8px;">/ - Pres</div>
<svg class="a" style="left:1440.65px;top:207.55px" width="10.4" height="8" viewBox="0 0 10.4 8"><path d="M0.9 1.85 L4.6 6.1 L8.3 1.85" fill="none" stroke="#505050" stroke-width="2.2" stroke-linecap="round" stroke-linejoin="round"/></svg>
<svg class="a" style="left:1465.15px;top:205.05px" width="16" height="15" viewBox="0 0 16 15"><ellipse cx="8.1" cy="6.5" rx="7" ry="5.85" fill="#67686d"/><path d="M2.6 9.2 Q2.6 12 0.5 13.6 Q4.2 13.4 6.4 11.7 Z" fill="#67686d"/></svg>
<div class="a" style="left:1519px;top:193.75px;width:122.5px;height:35.6px;background:#ececec;border-radius:4.5px 4.5px 4.5px 4.5px"></div>
<div class="t" style="left:1536.8px;top:204.54px;font-size:14.6px;color:#5e5e5e;font-weight:400;">-</div>
<svg class="a" style="left:1627.9px;top:207.55px" width="10.4" height="8" viewBox="0 0 10.4 8"><path d="M0.9 1.85 L4.6 6.1 L8.3 1.85" fill="none" stroke="#505050" stroke-width="2.2" stroke-linecap="round" stroke-linejoin="round"/></svg>
<div class="a" style="left:1682.65px;top:193.75px;width:97.6px;height:35.6px;background:#fff;border:1px solid #ebebeb;border-radius:4.5px 4.5px 4.5px 4.5px;box-sizing:border-box;box-shadow:0 1px 2px rgba(0,0,0,0.07)"></div>
<div class="t" style="left:1700.45px;top:204.54px;font-size:14.6px;color:#5e5e5e;font-weight:400;width:49.6px;overflow:hidden;white-space:nowrap;word-spacing:-0.8px;">/ - Pres</div>
<svg class="a" style="left:1766.65px;top:207.55px" width="10.4" height="8" viewBox="0 0 10.4 8"><path d="M0.9 1.85 L4.6 6.1 L8.3 1.85" fill="none" stroke="#505050" stroke-width="2.2" stroke-linecap="round" stroke-linejoin="round"/></svg>
<svg class="a" style="left:1791.15px;top:205.05px" width="16" height="15" viewBox="0 0 16 15"><ellipse cx="8.1" cy="6.5" rx="7" ry="5.85" fill="#67686d"/><path d="M2.6 9.2 Q2.6 12 0.5 13.6 Q4.2 13.4 6.4 11.7 Z" fill="#67686d"/></svg>
<div class="a" style="left:1845px;top:193.75px;width:66px;height:35.6px;background:#fff;border:1px solid #ebebeb;border-radius:4.5px 0px 0px 4.5px;box-sizing:border-box;box-shadow:0 1px 2px rgba(0,0,0,0.07);border-right:none"></div>
<div class="t" style="left:1862.8px;top:204.54px;font-size:14.6px;color:#5e5e5e;font-weight:400;">?</div>
<div class="a" style="left:272.6px;top:239.4px;width:65.4px;height:35.6px;background:#ececec;border-radius:0px 4.5px 4.5px 0px"></div>
<svg class="a" style="left:324.4px;top:253.2px" width="10.4" height="8" viewBox="0 0 10.4 8"><path d="M0.9 1.85 L4.6 6.1 L8.3 1.85" fill="none" stroke="#505050" stroke-width="2.2" stroke-linecap="round" stroke-linejoin="round"/></svg>
<div class="a" style="left:378px;top:239.4px;width:122.5px;height:35.6px;background:#fff;border:1px solid #ebebeb;border-radius:4.5px 4.5px 4.5px 4.5px;box-sizing:border-box;box-shadow:0 1px 2px rgba(0,0,0,0.07)"></div>
<div class="t" style="left:395.8px;top:250.19px;font-size:14.6px;color:#5e5e5e;font-weight:400;">?</div>
<svg class="a" style="left:486.9px;top:253.2px" width="10.4" height="8" viewBox="0 0 10.4 8"><path d="M0.9 1.85 L4.6 6.1 L8.3 1.85" fill="none" stroke="#505050" stroke-width="2.2" stroke-linecap="round" stroke-linejoin="round"/></svg>
<div class="a" style="left:541px;top:239.4px;width:122.5px;height:35.6px;background:#fff;border:1px solid #ebebeb;border-radius:4.5px 4.5px 4.5px 4.5px;box-sizing:border-box;box-shadow:0 1px 2px rgba(0,0,0,0.07)"></div>
<div class="t" style="left:558.8px;top:250.19px;font-size:14.6px;color:#5e5e5e;font-weight:400;">?</div>
<svg class="a" style="left:649.9px;top:253.2px" width="10.4" height="8" viewBox="0 0 10.4 8"><path d="M0.9 1.85 L4.6 6.1 L8.3 1.85" fill="none" stroke="#505050" stroke-width="2.2" stroke-linecap="round" stroke-linejoin="round"/></svg>
<div class="a" style="left:704px;top:239.4px;width:122.5px;height:35.6px;background:#ececec;border-radius:4.5px 4.5px 4.5px 4.5px"></div>
<div class="t" style="left:721.8px;top:250.19px;font-size:14.6px;color:#5e5e5e;font-weight:400;">-</div>
<svg class="a" style="left:812.9px;top:253.2px" width="10.4" height="8" viewBox="0 0 10.4 8"><path d="M0.9 1.85 L4.6 6.1 L8.3 1.85" fill="none" stroke="#505050" stroke-width="2.2" stroke-linecap="round" stroke-linejoin="round"/></svg>
<div class="a" style="left:867px;top:239.4px;width:122.5px;height:35.6px;background:#ececec;border-radius:4.5px 4.5px 4.5px 4.5px"></div>
<div class="t" style="left:884.8px;top:250.19px;font-size:14.6px;color:#5e5e5e;font-weight:400;">-</div>
<svg class="a" style="left:975.9px;top:253.2px" width="10.4" height="8" viewBox="0 0 10.4 8"><path d="M0.9 1.85 L4.6 6.1 L8.3 1.85" fill="none" stroke="#505050" stroke-width="2.2" stroke-linecap="round" stroke-linejoin="round"/></svg>
<div class="a" style="left:1030.65px;top:239.4px;width:97.6px;height:35.6px;background:#fff;border:1px solid #ebebeb;border-radius:4.5px 4.5px 4.5px 4.5px;box-sizing:border-box;box-shadow:0 1px 2px rgba(0,0,0,0.07)"></div>
<div class="t" style="left:1048.45px;top:250.19px;font-size:14.6px;color:#5e5e5e;font-weight:400;width:49.6px;overflow:hidden;white-space:nowrap;word-spacing:-0.8px;">/ - Pres</div>
<svg class="a" style="left:1114.65px;top:253.2px" width="10.4" height="8" viewBox="0 0 10.4 8"><path d="M0.9 1.85 L4.6 6.1 L8.3 1.85" fill="none" stroke="#505050" stroke-width="2.2" stroke-linecap="round" stroke-linejoin="round"/></svg>
<svg class="a" style="left:1139.15px;top:250.7px" width="16" height="15" viewBox="0 0 16 15"><ellipse cx="8.1" cy="6.5" rx="7" ry="5.85" fill="#67686d"/><path d="M2.6 9.2 Q2.6 12 0.5 13.6 Q4.2 13.4 6.4 11.7 Z" fill="#67686d"/></svg>
<div class="a" style="left:1193.65px;top:239.4px;width:97.6px;height:35.6px;background:#fff;border:1px solid #ebebeb;border-radius:4.5px 4.5px 4.5px 4.5px;box-sizing:border-box;box-shadow:0 1px 2px rgba(0,0,0,0.07)"></div>
<div class="t" style="left:1211.45px;top:250.19px;font-size:14.6px;color:#5e5e5e;font-weight:400;width:49.6px;overflow:hidden;white-space:nowrap;word-spacing:-0.8px;">/ - Pres</div>
<svg class="a" style="left:1277.65px;top:253.2px" width="10.4" height="8" viewBox="0 0 10.4 8"><path d="M0.9 1.85 L4.6 6.1 L8.3 1.85" fill="none" stroke="#505050" stroke-width="2.2" stroke-linecap="round" stroke-linejoin="round"/></svg>
<svg class="a" style="left:1302.15px;top:250.7px" width="16" height="15" viewBox="0 0 16 15"><ellipse cx="8.1" cy="6.5" rx="7" ry="5.85" fill="#67686d"/><path d="M2.6 9.2 Q2.6 12 0.5 13.6 Q4.2 13.4 6.4 11.7 Z" fill="#67686d"/></svg>
<div class="a" style="left:1356.65px;top:239.4px;width:97.6px;height:35.6px;background:#fff;border:1px solid #ebebeb;border-radius:4.5px 4.5px 4.5px 4.5px;box-sizing:border-box;box-shadow:0 1px 2px rgba(0,0,0,0.07)"></div>
<div class="t" style="left:1374.45px;top:250.19px;font-size:14.6px;color:#5e5e5e;font-weight:400;width:49.6px;overflow:hidden;white-space:nowrap;word-spacing:-0.8px;">/ - Pres</div>
<svg class="a" style="left:1440.65px;top:253.2px" width="10.4" height="8" viewBox="0 0 10.4 8"><path d="M0.9 1.85 L4.6 6.1 L8.3 1.85" fill="none" stroke="#505050" stroke-width="2.2" stroke-linecap="round" stroke-linejoin="round"/></svg>
<svg class="a" style="left:1465.15px;top:250.7px" width="16" height="15" viewBox="0 0 16 15"><ellipse cx="8.1" cy="6.5" rx="7" ry="5.85" fill="#67686d"/><path d="M2.6 9.2 Q2.6 12 0.5 13.6 Q4.2 13.4 6.4 11.7 Z" fill="#67686d"/></svg>
<div class="a" style="left:1519px;top:239.4px;width:122.5px;height:35.6px;background:#ececec;border-radius:4.5px 4.5px 4.5px 4.5px"></div>
<div class="t" style="left:1536.8px;top:250.19px;font-size:14.6px;color:#5e5e5e;font-weight:400;">-</div>
<svg class="a" style="left:1627.9px;top:253.2px" width="10.4" height="8" viewBox="0 0 10.4 8"><path d="M0.9 1.85 L4.6 6.1 L8.3 1.85" fill="none" stroke="#505050" stroke-width="2.2" stroke-linecap="round" stroke-linejoin="round"/></svg>
<div class="a" style="left:1682.65px;top:239.4px;width:97.6px;height:35.6px;background:#fff;border:1px solid #ebebeb;border-radius:4.5px 4.5px 4.5px 4.5px;box-sizing:border-box;box-shadow:0 1px 2px rgba(0,0,0,0.07)"></div>
<div class="t" style="left:1700.45px;top:250.19px;font-size:14.6px;color:#5e5e5e;font-weight:400;width:49.6px;overflow:hidden;white-space:nowrap;word-spacing:-0.8px;">/ - Pres</div>
<svg class="a" style="left:1766.65px;top:253.2px" width="10.4" height="8" viewBox="0 0 10.4 8"><path d="M0.9 1.85 L4.6 6.1 L8.3 1.85" fill="none" stroke="#505050" stroke-width="2.2" stroke-linecap="round" stroke-linejoin="round"/></svg>
<svg class="a" style="left:1791.15px;top:250.7px" width="16" height="15" viewBox="0 0 16 15"><ellipse cx="8.1" cy="6.5" rx="7" ry="5.85" fill="#67686d"/><path d="M2.6 9.2 Q2.6 12 0.5 13.6 Q4.2 13.4 6.4 11.7 Z" fill="#67686d"/></svg>
<div class="a" style="left:1845px;top:239.4px;width:66px;height:35.6px;background:#fff;border:1px solid #ebebeb;border-radius:4.5px 0px 0px 4.5px;box-sizing:border-box;box-shadow:0 1px 2px rgba(0,0,0,0.07);border-right:none"></div>
<div class="t" style="left:1862.8px;top:250.19px;font-size:14.6px;color:#5e5e5e;font-weight:400;">?</div>
<div class="a" style="left:272.6px;top:285.05px;width:65.4px;height:35.6px;background:#ececec;border-radius:0px 4.5px 4.5px 0px"></div>
<svg class="a" style="left:324.4px;top:298.85px" width="10.4" height="8" viewBox="0 0 10.4 8"><path d="M0.9 1.85 L4.6 6.1 L8.3 1.85" fill="none" stroke="#505050" stroke-width="2.2" stroke-linecap="round" stroke-linejoin="round"/></svg>
<div class="a" style="left:378px;top:285.05px;width:122.5px;height:35.6px;background:#fff;border:1px solid #ebebeb;border-radius:4.5px 4.5px 4.5px 4.5px;box-sizing:border-box;box-shadow:0 1px 2px rgba(0,0,0,0.07)"></div>
<div class="t" style="left:395.8px;top:295.84px;font-size:14.6px;color:#5e5e5e;font-weight:400;">?</div>
<svg class="a" style="left:486.9px;top:298.85px" width="10.4" height="8" viewBox="0 0 10.4 8"><path d="M0.9 1.85 L4.6 6.1 L8.3 1.85" fill="none" stroke="#505050" stroke-width="2.2" stroke-linecap="round" stroke-linejoin="round"/></svg>
<div class="a" style="left:541px;top:285.05px;width:122.5px;height:35.6px;background:#fff;border:1px solid #ebebeb;border-radius:4.5px 4.5px 4.5px 4.5px;box-sizing:border-box;box-shadow:0 1px 2px rgba(0,0,0,0.07)"></div>
<div class="t" style="left:558.8px;top:295.84px;font-size:14.6px;color:#5e5e5e;font-weight:400;">?</div>
<svg class="a" style="left:649.9px;top:298.85px" width="10.4" height="8" viewBox="0 0 10.4 8"><path d="M0.9 1.85 L4.6 6.1 L8.3 1.85" fill="none" stroke="#505050" stroke-width="2.2" stroke-linecap="round" stroke-linejoin="round"/></svg>
<div class="a" style="left:704px;top:285.05px;width:122.5px;height:35.6px;background:#ececec;border-radius:4.5px 4.5px 4.5px 4.5px"></div>
<div class="t" style="left:721.8px;top:295.84px;font-size:14.6px;color:#5e5e5e;font-weight:400;">-</div>
<svg class="a" style="left:812.9px;top:298.85px" width="10.4" height="8" viewBox="0 0 10.4 8"><path d="M0.9 1.85 L4.6 6.1 L8.3 1.85" fill="none" stroke="#505050" stroke-width="2.2" stroke-linecap="round" stroke-linejoin="round"/></svg>
<div class="a" style="left:867px;top:285.05px;width:122.5px;height:35.6px;background:#ececec;border-radius:4.5px 4.5px 4.5px 4.5px"></div>
<div class="t" style="left:884.8px;top:295.84px;font-size:14.6px;color:#5e5e5e;font-weight:400;">-</div>
<svg class="a" style="left:975.9px;top:298.85px" width="10.4" height="8" viewBox="0 0 10.4 8"><path d="M0.9 1.85 L4.6 6.1 L8.3 1.85" fill="none" stroke="#505050" stroke-width="2.2" stroke-linecap="round" stroke-linejoin="round"/></svg>
<div class="a" style="left:1030.65px;top:285.05px;width:97.6px;height:35.6px;background:#fff;border:1px solid #ebebeb;border-radius:4.5px 4.5px 4.5px 4.5px;box-sizing:border-box;box-shadow:0 1px 2px rgba(0,0,0,0.07)"></div>
<div class="t" style="left:1048.45px;top:295.84px;font-size:14.6px;color:#5e5e5e;font-weight:400;width:49.6px;overflow:hidden;white-space:nowrap;word-spacing:-0.8px;">O - Una</div>
<svg class="a" style="left:1114.65px;top:298.85px" width="10.4" height="8" viewBox="0 0 10.4 8"><path d="M0.9 1.85 L4.6 6.1 L8.3 1.85" fill="none" stroke="#505050" stroke-width="2.2" stroke-linecap="round" stroke-linejoin="round"/></svg>
<svg class="a" style="left:1139.15px;top:296.35px" width="16" height="15" viewBox="0 0 16 15"><ellipse cx="8.1" cy="6.5" rx="7" ry="5.85" fill="#67686d"/><path d="M2.6 9.2 Q2.6 12 0.5 13.6 Q4.2 13.4 6.4 11.7 Z" fill="#67686d"/></svg>
<div class="a" style="left:1193.65px;top:285.05px;width:97.6px;height:35.6px;background:#fff;border:1px solid #ebebeb;border-radius:4.5px 4.5px 4.5px 4.5px;box-sizing:border-box;box-shadow:0 1px 2px rgba(0,0,0,0.07)"></div>
<div class="t" style="left:1211.45px;top:295.84px;font-size:14.6px;color:#5e5e5e;font-weight:400;width:49.6px;overflow:hidden;white-space:nowrap;word-spacing:-0.8px;">O - Una</div>
<svg class="a" style="left:1277.65px;top:298.85px" width="10.4" height="8" viewBox="0 0 10.4 8"><path d="M0.9 1.85 L4.6 6.1 L8.3 1.85" fill="none" stroke="#505050" stroke-width="2.2" stroke-linecap="round" stroke-linejoin="round"/></svg>
<svg class="a" style="left:1302.15px;top:296.35px" width="16" height="15" viewBox="0 0 16 15"><ellipse cx="8.1" cy="6.5" rx="7" ry="5.85" fill="#67686d"/><path d="M2.6 9.2 Q2.6 12 0.5 13.6 Q4.2 13.4 6.4 11.7 Z" fill="#67686d"/></svg>
<div class="a" style="left:1356.65px;top:285.05px;width:97.6px;height:35.6px;background:#fff;border:1px solid #ebebeb;border-radius:4.5px 4.5px 4.5px 4.5px;box-sizing:border-box;box-shadow:0 1px 2px rgba(0,0,0,0.07)"></div>
<div class="t" style="left:1374.45px;top:295.84px;font-size:14.6px;color:#5e5e5e;font-weight:400;width:49.6px;overflow:hidden;white-space:nowrap;word-spacing:-0.8px;">O - Una</div>
<svg class="a" style="left:1440.65px;top:298.85px" width="10.4" height="8" viewBox="0 0 10.4 8"><path d="M0.9 1.85 L4.6 6.1 L8.3 1.85" fill="none" stroke="#505050" stroke-width="2.2" stroke-linecap="round" stroke-linejoin="round"/></svg>
<svg class="a" style="left:1465.15px;top:296.35px" width="16" height="15" viewBox="0 0 16 15"><ellipse cx="8.1" cy="6.5" rx="7" ry="5.85" fill="#67686d"/><path d="M2.6 9.2 Q2.6 12 0.5 13.6 Q4.2 13.4 6.4 11.7 Z" fill="#67686d"/></svg>
<div class="a" style="left:1519px;top:285.05px;width:122.5px;height:35.6px;background:#ececec;border-radius:4.5px 4.5px 4.5px 4.5px"></div>
<div class="t" style="left:1536.8px;top:295.84px;font-size:14.6px;color:#5e5e5e;font-weight:400;">-</div>
<svg class="a" style="left:1627.9px;top:298.85px" width="10.4" height="8" viewBox="0 0 10.4 8"><path d="M0.9 1.85 L4.6 6.1 L8.3 1.85" fill="none" stroke="#505050" stroke-width="2.2" stroke-linecap="round" stroke-linejoin="round"/></svg>
<div class="a" style="left:1682.65px;top:285.05px;width:97.6px;height:35.6px;background:#fff;border:1px solid #ebebeb;border-radius:4.5px 4.5px 4.5px 4.5px;box-sizing:border-box;box-shadow:0 1px 2px rgba(0,0,0,0.07)"></div>
<div class="t" style="left:1700.45px;top:295.84px;font-size:14.6px;color:#5e5e5e;font-weight:400;width:49.6px;overflow:hidden;white-space:nowrap;word-spacing:-0.8px;">/ - Pres</div>
<svg class="a" style="left:1766.65px;top:298.85px" width="10.4" height="8" viewBox="0 0 10.4 8"><path d="M0.9 1.85 L4.6 6.1 L8.3 1.85" fill="none" stroke="#505050" stroke-width="2.2" stroke-linecap="round" stroke-linejoin="round"/></svg>
<svg class="a" style="left:1791.15px;top:296.35px" width="16" height="15" viewBox="0 0 16 15"><ellipse cx="8.1" cy="6.5" rx="7" ry="5.85" fill="#67686d"/><path d="M2.6 9.2 Q2.6 12 0.5 13.6 Q4.2 13.4 6.4 11.7 Z" fill="#67686d"/></svg>
<div class="a" style="left:1845px;top:285.05px;width:66px;height:35.6px;background:#fff;border:1px solid #ebebeb;border-radius:4.5px 0px 0px 4.5px;box-sizing:border-box;box-shadow:0 1px 2px rgba(0,0,0,0.07);border-right:none"></div>
<div class="t" style="left:1862.8px;top:295.84px;font-size:14.6px;color:#5e5e5e;font-weight:400;">?</div>
<div class="a" style="left:272.6px;top:330.7px;width:65.4px;height:35.6px;background:#ececec;border-radius:0px 4.5px 4.5px 0px"></div>
<svg class="a" style="left:324.4px;top:344.5px" width="10.4" height="8" viewBox="0 0 10.4 8"><path d="M0.9 1.85 L4.6 6.1 L8.3 1.85" fill="none" stroke="#505050" stroke-width="2.2" stroke-linecap="round" stroke-linejoin="round"/></svg>
<div class="a" style="left:378px;top:330.7px;width:122.5px;height:35.6px;background:#fff;border:1px solid #ebebeb;border-radius:4.5px 4.5px 4.5px 4.5px;box-sizing:border-box;box-shadow:0 1px 2px rgba(0,0,0,0.07)"></div>
<div class="t" style="left:395.8px;top:341.49px;font-size:14.6px;color:#5e5e5e;font-weight:400;">?</div>
<svg class="a" style="left:486.9px;top:344.5px" width="10.4" height="8" viewBox="0 0 10.4 8"><path d="M0.9 1.85 L4.6 6.1 L8.3 1.85" fill="none" stroke="#505050" stroke-width="2.2" stroke-linecap="round" stroke-linejoin="round"/></svg>
<div class="a" style="left:541px;top:330.7px;width:122.5px;height:35.6px;background:#fff;border:1px solid #ebebeb;border-radius:4.5px 4.5px 4.5px 4.5px;box-sizing:border-box;box-shadow:0 1px 2px rgba(0,0,0,0.07)"></div>
<div class="t" style="left:558.8px;top:341.49px;font-size:14.6px;color:#5e5e5e;font-weight:400;">?</div>
<svg class="a" style="left:649.9px;top:344.5px" width="10.4" height="8" viewBox="0 0 10.4 8"><path d="M0.9 1.85 L4.6 6.1 L8.3 1.85" fill="none" stroke="#505050" stroke-width="2.2" stroke-linecap="round" stroke-linejoin="round"/></svg>
<div class="a" style="left:704px;top:330.7px;width:122.5px;height:35.6px;background:#ececec;border-radius:4.5px 4.5px 4.5px 4.5px"></div>
<div class="t" style="left:721.8px;top:341.49px;font-size:14.6px;color:#5e5e5e;font-weight:400;">-</div>
<svg class="a" style="left:812.9px;top:344.5px" width="10.4" height="8" viewBox="0 0 10.4 8"><path d="M0.9 1.85 L4.6 6.1 L8.3 1.85" fill="none" stroke="#505050" stroke-width="2.2" stroke-linecap="round" stroke-linejoin="round"/></svg>
<div class="a" style="left:867px;top:330.7px;width:122.5px;height:35.6px;background:#ececec;border-radius:4.5px 4.5px 4.5px 4.5px"></div>
<div class="t" style="left:884.8px;top:341.49px;font-size:14.6px;color:#5e5e5e;font-weight:400;">-</div>
<svg class="a" style="left:975.9px;top:344.5px" width="10.4" height="8" viewBox="0 0 10.4 8"><path d="M0.9 1.85 L4.6 6.1 L8.3 1.85" fill="none" stroke="#505050" stroke-width="2.2" stroke-linecap="round" stroke-linejoin="round"/></svg>
<div class="a" style="left:1030px;top:330.7px;width:122.5px;height:35.6px;background:#fff;border:1px solid #ebebeb;border-radius:4.5px 4.5px 4.5px 4.5px;box-sizing:border-box;box-shadow:0 1px 2px rgba(0,0,0,0.07)"></div>
<div class="t" style="left:1047.8px;top:341.49px;font-size:14.6px;color:#5e5e5e;font-weight:400;">?</div>
<svg class="a" style="left:1138.9px;top:344.5px" width="10.4" height="8" viewBox="0 0 10.4 8"><path d="M0.9 1.85 L4.6 6.1 L8.3 1.85" fill="none" stroke="#505050" stroke-width="2.2" stroke-linecap="round" stroke-linejoin="round"/></svg>
<div class="a" style="left:1193px;top:330.7px;width:122.5px;height:35.6px;background:#fff;border:1px solid #ebebeb;border-radius:4.5px 4.5px 4.5px 4.5px;box-sizing:border-box;box-shadow:0 1px 2px rgba(0,0,0,0.07)"></div>
<div class="t" style="left:1210.8px;top:341.49px;font-size:14.6px;color:#5e5e5e;font-weight:400;">?</div>
<svg class="a" style="left:1301.9px;top:344.5px" width="10.4" height="8" viewBox="0 0 10.4 8"><path d="M0.9 1.85 L4.6 6.1 L8.3 1.85" fill="none" stroke="#505050" stroke-width="2.2" stroke-linecap="round" stroke-linejoin="round"/></svg>
<div class="a" style="left:1356px;top:330.7px;width:122.5px;height:35.6px;background:#fff;border:1px solid #ebebeb;border-radius:4.5px 4.5px 4.5px 4.5px;box-sizing:border-box;box-shadow:0 1px 2px rgba(0,0,0,0.07)"></div>
<div class="t" style="left:1373.8px;top:341.49px;font-size:14.6px;color:#5e5e5e;font-weight:400;">?</div>
<svg class="a" style="left:1464.9px;top:344.5px" width="10.4" height="8" viewBox="0 0 10.4 8"><path d="M0.9 1.85 L4.6 6.1 L8.3 1.85" fill="none" stroke="#505050" stroke-width="2.2" stroke-linecap="round" stroke-linejoin="round"/></svg>
<div class="a" style="left:1519px;top:330.7px;width:122.5px;height:35.6px;background:#ececec;border-radius:4.5px 4.5px 4.5px 4.5px"></div>
<div class="t" style="left:1536.8px;top:341.49px;font-size:14.6px;color:#5e5e5e;font-weight:400;">-</div>
<svg class="a" style="left:1627.9px;top:344.5px" width="10.4" height="8" viewBox="0 0 10.4 8"><path d="M0.9 1.85 L4.6 6.1 L8.3 1.85" fill="none" stroke="#505050" stroke-width="2.2" stroke-linecap="round" stroke-linejoin="round"/></svg>
<div class="a" style="left:1682.65px;top:330.7px;width:97.6px;height:35.6px;background:#fff;border:1px solid #ebebeb;border-radius:4.5px 4.5px 4.5px 4.5px;box-sizing:border-box;box-shadow:0 1px 2px rgba(0,0,0,0.07)"></div>
<div class="t" style="left:1700.45px;top:341.49px;font-size:14.6px;color:#5e5e5e;font-weight:400;width:49.6px;overflow:hidden;white-space:nowrap;word-spacing:-0.8px;">L - Late</div>
<svg class="a" style="left:1766.65px;top:344.5px" width="10.4" height="8" viewBox="0 0 10.4 8"><path d="M0.9 1.85 L4.6 6.1 L8.3 1.85" fill="none" stroke="#505050" stroke-width="2.2" stroke-linecap="round" stroke-linejoin="round"/></svg>
<svg class="a" style="left:1791.15px;top:342px" width="16" height="15" viewBox="0 0 16 15"><ellipse cx="8.1" cy="6.5" rx="7" ry="5.85" fill="#67686d"/><path d="M2.6 9.2 Q2.6 12 0.5 13.6 Q4.2 13.4 6.4 11.7 Z" fill="#67686d"/></svg>
<div class="a" style="left:1845px;top:330.7px;width:66px;height:35.6px;background:#fff;border:1px solid #ebebeb;border-radius:4.5px 0px 0px 4.5px;box-sizing:border-box;box-shadow:0 1px 2px rgba(0,0,0,0.07);border-right:none"></div>
<div class="t" style="left:1862.8px;top:341.49px;font-size:14.6px;color:#5e5e5e;font-weight:400;">?</div>
<div class="a" style="left:272.6px;top:376.35px;width:65.4px;height:35.6px;background:#ececec;border-radius:0px 4.5px 4.5px 0px"></div>
<svg class="a" style="left:324.4px;top:390.15px" width="10.4" height="8" viewBox="0 0 10.4 8"><path d="M0.9 1.85 L4.6 6.1 L8.3 1.85" fill="none" stroke="#505050" stroke-width="2.2" stroke-linecap="round" stroke-linejoin="round"/></svg>
<div class="a" style="left:378px;top:376.35px;width:122.5px;height:35.6px;background:#fff;border:1px solid #ebebeb;border-radius:4.5px 4.5px 4.5px 4.5px;box-sizing:border-box;box-shadow:0 1px 2px rgba(0,0,0,0.07)"></div>
<div class="t" style="left:395.8px;top:387.14px;font-size:14.6px;color:#5e5e5e;font-weight:400;">?</div>
<svg class="a" style="left:486.9px;top:390.15px" width="10.4" height="8" viewBox="0 0 10.4 8"><path d="M0.9 1.85 L4.6 6.1 L8.3 1.85" fill="none" stroke="#505050" stroke-width="2.2" stroke-linecap="round" stroke-linejoin="round"/></svg>
<div class="a" style="left:541px;top:376.35px;width:122.5px;height:35.6px;background:#fff;border:1px solid #ebebeb;border-radius:4.5px 4.5px 4.5px 4.5px;box-sizing:border-box;box-shadow:0 1px 2px rgba(0,0,0,0.07)"></div>
<div class="t" style="left:558.8px;top:387.14px;font-size:14.6px;color:#5e5e5e;font-weight:400;">?</div>
<svg class="a" style="left:649.9px;top:390.15px" width="10.4" height="8" viewBox="0 0 10.4 8"><path d="M0.9 1.85 L4.6 6.1 L8.3 1.85" fill="none" stroke="#505050" stroke-width="2.2" stroke-linecap="round" stroke-linejoin="round"/></svg>
<div class="a" style="left:704px;top:376.35px;width:122.5px;height:35.6px;background:#ececec;border-radius:4.5px 4.5px 4.5px 4.5px"></div>
<div class="t" style="left:721.8px;top:387.14px;font-size:14.6px;color:#5e5e5e;font-weight:400;">-</div>
<svg class="a" style="left:812.9px;top:390.15px" width="10.4" height="8" viewBox="0 0 10.4 8"><path d="M0.9 1.85 L4.6 6.1 L8.3 1.85" fill="none" stroke="#505050" stroke-width="2.2" stroke-linecap="round" stroke-linejoin="round"/></svg>
<div class="a" style="left:867px;top:376.35px;width:122.5px;height:35.6px;background:#ececec;border-radius:4.5px 4.5px 4.5px 4.5px"></div>
<div class="t" style="left:884.8px;top:387.14px;font-size:14.6px;color:#5e5e5e;font-weight:400;">-</div>
<svg class="a" style="left:975.9px;top:390.15px" width="10.4" height="8" viewBox="0 0 10.4 8"><path d="M0.9 1.85 L4.6 6.1 L8.3 1.85" fill="none" stroke="#505050" stroke-width="2.2" stroke-linecap="round" stroke-linejoin="round"/></svg>
<div class="a" style="left:1030px;top:376.35px;width:122.5px;height:35.6px;background:#fff;border:1px solid #ebebeb;border-radius:4.5px 4.5px 4.5px 4.5px;box-sizing:border-box;box-shadow:0 1px 2px rgba(0,0,0,0.07)"></div>
<div class="t" style="left:1047.8px;top:387.14px;font-size:14.6px;color:#5e5e5e;font-weight:400;">?</div>
<svg class="a" style="left:1138.9px;top:390.15px" width="10.4" height="8" viewBox="0 0 10.4 8"><path d="M0.9 1.85 L4.6 6.1 L8.3 1.85" fill="none" stroke="#505050" stroke-width="2.2" stroke-linecap="round" stroke-linejoin="round"/></svg>
<div class="a" style="left:1193px;top:376.35px;width:122.5px;height:35.6px;background:#fff;border:1px solid #ebebeb;border-radius:4.5px 4.5px 4.5px 4.5px;box-sizing:border-box;box-shadow:0 1px 2px rgba(0,0,0,0.07)"></div>
<div class="t" style="left:1210.8px;top:387.14px;font-size:14.6px;color:#5e5e5e;font-weight:400;">?</div>
<svg class="a" style="left:1301.9px;top:390.15px" width="10.4" height="8" viewBox="0 0 10.4 8"><path d="M0.9 1.85 L4.6 6.1 L8.3 1.85" fill="none" stroke="#505050" stroke-width="2.2" stroke-linecap="round" stroke-linejoin="round"/></svg>
<div class="a" style="left:1356px;top:376.35px;width:122.5px;height:35.6px;background:#fff;border:1px solid #ebebeb;border-radius:4.5px 4.5px 4.5px 4.5px;box-sizing:border-box;box-shadow:0 1px 2px rgba(0,0,0,0.07)"></div>
<div class="t" style="left:1373.8px;top:387.14px;font-size:14.6px;color:#5e5e5e;font-weight:400;">?</div>
<svg class="a" style="left:1464.9px;top:390.15px" width="10.4" height="8" viewBox="0 0 10.4 8"><path d="M0.9 1.85 L4.6 6.1 L8.3 1.85" fill="none" stroke="#505050" stroke-width="2.2" stroke-linecap="round" stroke-linejoin="round"/></svg>
<div class="a" style="left:1519px;top:376.35px;width:122.5px;height:35.6px;background:#ececec;border-radius:4.5px 4.5px 4.5px 4.5px"></div>
<div class="t" style="left:1536.8px;top:387.14px;font-size:14.6px;color:#5e5e5e;font-weight:400;">-</div>
<svg class="a" style="left:1627.9px;top:390.15px" width="10.4" height="8" viewBox="0 0 10.4 8"><path d="M0.9 1.85 L4.6 6.1 L8.3 1.85" fill="none" stroke="#505050" stroke-width="2.2" stroke-linecap="round" stroke-linejoin="round"/></svg>
<div class="a" style="left:1682.65px;top:376.35px;width:97.6px;height:35.6px;background:#fff;border:1px solid #ebebeb;border-radius:4.5px 4.5px 4.5px 4.5px;box-sizing:border-box;box-shadow:0 1px 2px rgba(0,0,0,0.07)"></div>
<div class="t" style="left:1700.45px;top:387.14px;font-size:14.6px;color:#5e5e5e;font-weight:400;width:49.6px;overflow:hidden;white-space:nowrap;word-spacing:-0.8px;">U - Late</div>
<svg class="a" style="left:1766.65px;top:390.15px" width="10.4" height="8" viewBox="0 0 10.4 8"><path d="M0.9 1.85 L4.6 6.1 L8.3 1.85" fill="none" stroke="#505050" stroke-width="2.2" stroke-linecap="round" stroke-linejoin="round"/></svg>
<svg class="a" style="left:1791.15px;top:387.65px" width="16" height="15" viewBox="0 0 16 15"><ellipse cx="8.1" cy="6.5" rx="7" ry="5.85" fill="#67686d"/><path d="M2.6 9.2 Q2.6 12 0.5 13.6 Q4.2 13.4 6.4 11.7 Z" fill="#67686d"/></svg>
<div class="a" style="left:1845px;top:376.35px;width:66px;height:35.6px;background:#fff;border:1px solid #ebebeb;border-radius:4.5px 0px 0px 4.5px;box-sizing:border-box;box-shadow:0 1px 2px rgba(0,0,0,0.07);border-right:none"></div>
<div class="t" style="left:1862.8px;top:387.14px;font-size:14.6px;color:#5e5e5e;font-weight:400;">?</div>
<div class="a" style="left:272.6px;top:422px;width:65.4px;height:35.6px;background:#ececec;border-radius:0px 4.5px 4.5px 0px"></div>
<svg class="a" style="left:324.4px;top:435.8px" width="10.4" height="8" viewBox="0 0 10.4 8"><path d="M0.9 1.85 L4.6 6.1 L8.3 1.85" fill="none" stroke="#505050" stroke-width="2.2" stroke-linecap="round" stroke-linejoin="round"/></svg>
<div class="a" style="left:378px;top:422px;width:122.5px;height:35.6px;background:#fff;border:1px solid #ebebeb;border-radius:4.5px 4.5px 4.5px 4.5px;box-sizing:border-box;box-shadow:0 1px 2px rgba(0,0,0,0.07)"></div>
<div class="t" style="left:395.8px;top:432.79px;font-size:14.6px;color:#5e5e5e;font-weight:400;">?</div>
<svg class="a" style="left:486.9px;top:435.8px" width="10.4" height="8" viewBox="0 0 10.4 8"><path d="M0.9 1.85 L4.6 6.1 L8.3 1.85" fill="none" stroke="#505050" stroke-width="2.2" stroke-linecap="round" stroke-linejoin="round"/></svg>
<div class="a" style="left:541px;top:422px;width:122.5px;height:35.6px;background:#fff;border:1px solid #ebebeb;border-radius:4.5px 4.5px 4.5px 4.5px;box-sizing:border-box;box-shadow:0 1px 2px rgba(0,0,0,0.07)"></div>
<div class="t" style="left:558.8px;top:432.79px;font-size:14.6px;color:#5e5e5e;font-weight:400;">?</div>
<svg class="a" style="left:649.9px;top:435.8px" width="10.4" height="8" viewBox="0 0 10.4 8"><path d="M0.9 1.85 L4.6 6.1 L8.3 1.85" fill="none" stroke="#505050" stroke-width="2.2" stroke-linecap="round" stroke-linejoin="round"/></svg>
<div class="a" style="left:704px;top:422px;width:122.5px;height:35.6px;background:#ececec;border-radius:4.5px 4.5px 4.5px 4.5px"></div>
<div class="t" style="left:721.8px;top:432.79px;font-size:14.6px;color:#5e5e5e;font-weight:400;">-</div>
<svg class="a" style="left:812.9px;top:435.8px" width="10.4" height="8" viewBox="0 0 10.4 8"><path d="M0.9 1.85 L4.6 6.1 L8.3 1.85" fill="none" stroke="#505050" stroke-width="2.2" stroke-linecap="round" stroke-linejoin="round"/></svg>
<div class="a" style="left:867px;top:422px;width:122.5px;height:35.6px;background:#ececec;border-radius:4.5px 4.5px 4.5px 4.5px"></div>
<div class="t" style="left:884.8px;top:432.79px;font-size:14.6px;color:#5e5e5e;font-weight:400;">-</div>
<svg class="a" style="left:975.9px;top:435.8px" width="10.4" height="8" viewBox="0 0 10.4 8"><path d="M0.9 1.85 L4.6 6.1 L8.3 1.85" fill="none" stroke="#505050" stroke-width="2.2" stroke-linecap="round" stroke-linejoin="round"/></svg>
<div class="a" style="left:1030px;top:422px;width:122.5px;height:35.6px;background:#fff;border:1px solid #ebebeb;border-radius:4.5px 4.5px 4.5px 4.5px;box-sizing:border-box;box-shadow:0 1px 2px rgba(0,0,0,0.07)"></div>
<div class="t" style="left:1047.8px;top:432.79px;font-size:14.6px;color:#5e5e5e;font-weight:400;">?</div>
<svg class="a" style="left:1138.9px;top:435.8px" width="10.4" height="8" viewBox="0 0 10.4 8"><path d="M0.9 1.85 L4.6 6.1 L8.3 1.85" fill="none" stroke="#505050" stroke-width="2.2" stroke-linecap="round" stroke-linejoin="round"/></svg>
<div class="a" style="left:1193px;top:422px;width:122.5px;height:35.6px;background:#fff;border:1px solid #ebebeb;border-radius:4.5px 4.5px 4.5px 4.5px;box-sizing:border-box;box-shadow:0 1px 2px rgba(0,0,0,0.07)"></div>
<div class="t" style="left:1210.8px;top:432.79px;font-size:14.6px;color:#5e5e5e;font-weight:400;">?</div>
<svg class="a" style="left:1301.9px;top:435.8px" width="10.4" height="8" viewBox="0 0 10.4 8"><path d="M0.9 1.85 L4.6 6.1 L8.3 1.85" fill="none" stroke="#505050" stroke-width="2.2" stroke-linecap="round" stroke-linejoin="round"/></svg>
<div class="a" style="left:1356px;top:422px;width:122.5px;height:35.6px;background:#fff;border:1px solid #ebebeb;border-radius:4.5px 4.5px 4.5px 4.5px;box-sizing:border-box;box-shadow:0 1px 2px rgba(0,0,0,0.07)"></div>
<div class="t" style="left:1373.8px;top:432.79px;font-size:14.6px;color:#5e5e5e;font-weight:400;">?</div>
<svg class="a" style="left:1464.9px;top:435.8px" width="10.4" height="8" viewBox="0 0 10.4 8"><path d="M0.9 1.85 L4.6 6.1 L8.3 1.85" fill="none" stroke="#505050" stroke-width="2.2" stroke-linecap="round" stroke-linejoin="round"/></svg>
<div class="a" style="left:1519px;top:422px;width:122.5px;height:35.6px;background:#ececec;border-radius:4.5px 4.5px 4.5px 4.5px"></div>
<div class="t" style="left:1536.8px;top:432.79px;font-size:14.6px;color:#5e5e5e;font-weight:400;">-</div>
<svg class="a" style="left:1627.9px;top:435.8px" width="10.4" height="8" viewBox="0 0 10.4 8"><path d="M0.9 1.85 L4.6 6.1 L8.3 1.85" fill="none" stroke="#505050" stroke-width="2.2" stroke-linecap="round" stroke-linejoin="round"/></svg>
<div class="a" style="left:1682.65px;top:422px;width:97.6px;height:35.6px;background:#fff;border:1px solid #ebebeb;border-radius:4.5px 4.5px 4.5px 4.5px;box-sizing:border-box;box-shadow:0 1px 2px rgba(0,0,0,0.07)"></div>
<div class="t" style="left:1700.45px;top:432.79px;font-size:14.6px;color:#5e5e5e;font-weight:400;width:49.6px;overflow:hidden;white-space:nowrap;word-spacing:-0.8px;">/ - Pres</div>
<svg class="a" style="left:1766.65px;top:435.8px" width="10.4" height="8" viewBox="0 0 10.4 8"><path d="M0.9 1.85 L4.6 6.1 L8.3 1.85" fill="none" stroke="#505050" stroke-width="2.2" stroke-linecap="round" stroke-linejoin="round"/></svg>
<svg class="a" style="left:1791.15px;top:433.3px" width="16" height="15" viewBox="0 0 16 15"><ellipse cx="8.1" cy="6.5" rx="7" ry="5.85" fill="#67686d"/><path d="M2.6 9.2 Q2.6 12 0.5 13.6 Q4.2 13.4 6.4 11.7 Z" fill="#67686d"/></svg>
<div class="a" style="left:1845px;top:422px;width:66px;height:35.6px;background:#fff;border:1px solid #ebebeb;border-radius:4.5px 0px 0px 4.5px;box-sizing:border-box;box-shadow:0 1px 2px rgba(0,0,0,0.07);border-right:none"></div>
<div class="t" style="left:1862.8px;top:432.79px;font-size:14.6px;color:#5e5e5e;font-weight:400;">?</div>
<div class="a" style="left:272.6px;top:467.65px;width:65.4px;height:35.6px;background:#ececec;border-radius:0px 4.5px 4.5px 0px"></div>
<svg class="a" style="left:324.4px;top:481.45px" width="10.4" height="8" viewBox="0 0 10.4 8"><path d="M0.9 1.85 L4.6 6.1 L8.3 1.85" fill="none" stroke="#505050" stroke-width="2.2" stroke-linecap="round" stroke-linejoin="round"/></svg>
<div class="a" style="left:378px;top:467.65px;width:122.5px;height:35.6px;background:#fff;border:1px solid #ebebeb;border-radius:4.5px 4.5px 4.5px 4.5px;box-sizing:border-box;box-shadow:0 1px 2px rgba(0,0,0,0.07)"></div>
<div class="t" style="left:395.8px;top:478.44px;font-size:14.6px;color:#5e5e5e;font-weight:400;">?</div>
<svg class="a" style="left:486.9px;top:481.45px" width="10.4" height="8" viewBox="0 0 10.4 8"><path d="M0.9 1.85 L4.6 6.1 L8.3 1.85" fill="none" stroke="#505050" stroke-width="2.2" stroke-linecap="round" stroke-linejoin="round"/></svg>
<div class="a" style="left:541px;top:467.65px;width:122.5px;height:35.6px;background:#fff;border:1px solid #ebebeb;border-radius:4.5px 4.5px 4.5px 4.5px;box-sizing:border-box;box-shadow:0 1px 2px rgba(0,0,0,0.07)"></div>
<div class="t" style="left:558.8px;top:478.44px;font-size:14.6px;color:#5e5e5e;font-weight:400;">?</div>
<svg class="a" style="left:649.9px;top:481.45px" width="10.4" height="8" viewBox="0 0 10.4 8"><path d="M0.9 1.85 L4.6 6.1 L8.3 1.85" fill="none" stroke="#505050" stroke-width="2.2" stroke-linecap="round" stroke-linejoin="round"/></svg>
<div class="a" style="left:704px;top:467.65px;width:122.5px;height:35.6px;background:#ececec;border-radius:4.5px 4.5px 4.5px 4.5px"></div>
<div class="t" style="left:721.8px;top:478.44px;font-size:14.6px;color:#5e5e5e;font-weight:400;">-</div>
<svg class="a" style="left:812.9px;top:481.45px" width="10.4" height="8" viewBox="0 0 10.4 8"><path d="M0.9 1.85 L4.6 6.1 L8.3 1.85" fill="none" stroke="#505050" stroke-width="2.2" stroke-linecap="round" stroke-linejoin="round"/></svg>
<div class="a" style="left:867px;top:467.65px;width:122.5px;height:35.6px;background:#ececec;border-radius:4.5px 4.5px 4.5px 4.5px"></div>
<div class="t" style="left:884.8px;top:478.44px;font-size:14.6px;color:#5e5e5e;font-weight:400;">-</div>
<svg class="a" style="left:975.9px;top:481.45px" width="10.4" height="8" viewBox="0 0 10.4 8"><path d="M0.9 1.85 L4.6 6.1 L8.3 1.85" fill="none" stroke="#505050" stroke-width="2.2" stroke-linecap="round" stroke-linejoin="round"/></svg>
<div class="a" style="left:1030px;top:467.65px;width:122.5px;height:35.6px;background:#fff;border:1px solid #ebebeb;border-radius:4.5px 4.5px 4.5px 4.5px;box-sizing:border-box;box-shadow:0 1px 2px rgba(0,0,0,0.07)"></div>
<div class="t" style="left:1047.8px;top:478.44px;font-size:14.6px;color:#5e5e5e;font-weight:400;">?</div>
<svg class="a" style="left:1138.9px;top:481.45px" width="10.4" height="8" viewBox="0 0 10.4 8"><path d="M0.9 1.85 L4.6 6.1 L8.3 1.85" fill="none" stroke="#505050" stroke-width="2.2" stroke-linecap="round" stroke-linejoin="round"/></svg>
<div class="a" style="left:1193px;top:467.65px;width:122.5px;height:35.6px;background:#fff;border:1px solid #ebebeb;border-radius:4.5px 4.5px 4.5px 4.5px;box-sizing:border-box;box-shadow:0 1px 2px rgba(0,0,0,0.07)"></div>
<div class="t" style="left:1210.8px;top:478.44px;font-size:14.6px;color:#5e5e5e;font-weight:400;">?</div>
<svg class="a" style="left:1301.9px;top:481.45px" width="10.4" height="8" viewBox="0 0 10.4 8"><path d="M0.9 1.85 L4.6 6.1 L8.3 1.85" fill="none" stroke="#505050" stroke-width="2.2" stroke-linecap="round" stroke-linejoin="round"/></svg>
<div class="a" style="left:1356px;top:467.65px;width:122.5px;height:35.6px;background:#fff;border:1px solid #ebebeb;border-radius:4.5px 4.5px 4.5px 4.5px;box-sizing:border-box;box-shadow:0 1px 2px rgba(0,0,0,0.07)"></div>
<div class="t" style="left:1373.8px;top:478.44px;font-size:14.6px;color:#5e5e5e;font-weight:400;">?</div>
<svg class="a" style="left:1464.9px;top:481.45px" width="10.4" height="8" viewBox="0 0 10.4 8"><path d="M0.9 1.85 L4.6 6.1 L8.3 1.85" fill="none" stroke="#505050" stroke-width="2.2" stroke-linecap="round" stroke-linejoin="round"/></svg>
<div class="a" style="left:1519px;top:467.65px;width:122.5px;height:35.6px;background:#ececec;border-radius:4.5px 4.5px 4.5px 4.5px"></div>
<div class="t" style="left:1536.8px;top:478.44px;font-size:14.6px;color:#5e5e5e;font-weight:400;">-</div>
<svg class="a" style="left:1627.9px;top:481.45px" width="10.4" height="8" viewBox="0 0 10.4 8"><path d="M0.9 1.85 L4.6 6.1 L8.3 1.85" fill="none" stroke="#505050" stroke-width="2.2" stroke-linecap="round" stroke-linejoin="round"/></svg>
<div class="a" style="left:1682.65px;top:467.65px;width:97.6px;height:35.6px;background:#fff;border:1px solid #ebebeb;border-radius:4.5px 4.5px 4.5px 4.5px;box-sizing:border-box;box-shadow:0 1px 2px rgba(0,0,0,0.07)"></div>
<div class="t" style="left:1700.45px;top:478.44px;font-size:14.6px;color:#5e5e5e;font-weight:400;width:49.6px;overflow:hidden;white-space:nowrap;word-spacing:-0.8px;">/ - Pres</div>
<svg class="a" style="left:1766.65px;top:481.45px" width="10.4" height="8" viewBox="0 0 10.4 8"><path d="M0.9 1.85 L4.6 6.1 L8.3 1.85" fill="none" stroke="#505050" stroke-width="2.2" stroke-linecap="round" stroke-linejoin="round"/></svg>
<svg class="a" style="left:1791.15px;top:478.95px" width="16" height="15" viewBox="0 0 16 15"><ellipse cx="8.1" cy="6.5" rx="7" ry="5.85" fill="#67686d"/><path d="M2.6 9.2 Q2.6 12 0.5 13.6 Q4.2 13.4 6.4 11.7 Z" fill="#67686d"/></svg>
<div class="a" style="left:1845px;top:467.65px;width:66px;height:35.6px;background:#fff;border:1px solid #ebebeb;border-radius:4.5px 0px 0px 4.5px;box-sizing:border-box;box-shadow:0 1px 2px rgba(0,0,0,0.07);border-right:none"></div>
<div class="t" style="left:1862.8px;top:478.44px;font-size:14.6px;color:#5e5e5e;font-weight:400;">?</div>
<div class="a" style="left:272.6px;top:513.3px;width:65.4px;height:35.6px;background:#ececec;border-radius:0px 4.5px 4.5px 0px"></div>
<svg class="a" style="left:324.4px;top:527.1px" width="10.4" height="8" viewBox="0 0 10.4 8"><path d="M0.9 1.85 L4.6 6.1 L8.3 1.85" fill="none" stroke="#505050" stroke-width="2.2" stroke-linecap="round" stroke-linejoin="round"/></svg>
<div class="a" style="left:378px;top:513.3px;width:122.5px;height:35.6px;background:#fff;border:1px solid #ebebeb;border-radius:4.5px 4.5px 4.5px 4.5px;box-sizing:border-box;box-shadow:0 1px 2px rgba(0,0,0,0.07)"></div>
<div class="t" style="left:395.8px;top:524.09px;font-size:14.6px;color:#5e5e5e;font-weight:400;">?</div>
<svg class="a" style="left:486.9px;top:527.1px" width="10.4" height="8" viewBox="0 0 10.4 8"><path d="M0.9 1.85 L4.6 6.1 L8.3 1.85" fill="none" stroke="#505050" stroke-width="2.2" stroke-linecap="round" stroke-linejoin="round"/></svg>
<div class="a" style="left:541px;top:513.3px;width:122.5px;height:35.6px;background:#fff;border:1px solid #ebebeb;border-radius:4.5px 4.5px 4.5px 4.5px;box-sizing:border-box;box-shadow:0 1px 2px rgba(0,0,0,0.07)"></div>
<div class="t" style="left:558.8px;top:524.09px;font-size:14.6px;color:#5e5e5e;font-weight:400;">?</div>
<svg class="a" style="left:649.9px;top:527.1px" width="10.4" height="8" viewBox="0 0 10.4 8"><path d="M0.9 1.85 L4.6 6.1 L8.3 1.85" fill="none" stroke="#505050" stroke-width="2.2" stroke-linecap="round" stroke-linejoin="round"/></svg>
<div class="a" style="left:704px;top:513.3px;width:122.5px;height:35.6px;background:#ececec;border-radius:4.5px 4.5px 4.5px 4.5px"></div>
<div class="t" style="left:721.8px;top:524.09px;font-size:14.6px;color:#5e5e5e;font-weight:400;">-</div>
<svg class="a" style="left:812.9px;top:527.1px" width="10.4" height="8" viewBox="0 0 10.4 8"><path d="M0.9 1.85 L4.6 6.1 L8.3 1.85" fill="none" stroke="#505050" stroke-width="2.2" stroke-linecap="round" stroke-linejoin="round"/></svg>
<div class="a" style="left:867px;top:513.3px;width:122.5px;height:35.6px;background:#ececec;border-radius:4.5px 4.5px 4.5px 4.5px"></div>
<div class="t" style="left:884.8px;top:524.09px;font-size:14.6px;color:#5e5e5e;font-weight:400;">-</div>
<svg class="a" style="left:975.9px;top:527.1px" width="10.4" height="8" viewBox="0 0 10.4 8"><path d="M0.9 1.85 L4.6 6.1 L8.3 1.85" fill="none" stroke="#505050" stroke-width="2.2" stroke-linecap="round" stroke-linejoin="round"/></svg>
<div class="a" style="left:1030px;top:513.3px;width:122.5px;height:35.6px;background:#fff;border:1px solid #ebebeb;border-radius:4.5px 4.5px 4.5px 4.5px;box-sizing:border-box;box-shadow:0 1px 2px rgba(0,0,0,0.07)"></div>
<div class="t" style="left:1047.8px;top:524.09px;font-size:14.6px;color:#5e5e5e;font-weight:400;">?</div>
<svg class="a" style="left:1138.9px;top:527.1px" width="10.4" height="8" viewBox="0 0 10.4 8"><path d="M0.9 1.85 L4.6 6.1 L8.3 1.85" fill="none" stroke="#505050" stroke-width="2.2" stroke-linecap="round" stroke-linejoin="round"/></svg>
<div class="a" style="left:1193px;top:513.3px;width:122.5px;height:35.6px;background:#fff;border:1px solid #ebebeb;border-radius:4.5px 4.5px 4.5px 4.5px;box-sizing:border-box;box-shadow:0 1px 2px rgba(0,0,0,0.07)"></div>
<div class="t" style="left:1210.8px;top:524.09px;font-size:14.6px;color:#5e5e5e;font-weight:400;">?</div>
<svg class="a" style="left:1301.9px;top:527.1px" width="10.4" height="8" viewBox="0 0 10.4 8"><path d="M0.9 1.85 L4.6 6.1 L8.3 1.85" fill="none" stroke="#505050" stroke-width="2.2" stroke-linecap="round" stroke-linejoin="round"/></svg>
<div class="a" style="left:1356px;top:513.3px;width:122.5px;height:35.6px;background:#fff;border:1px solid #ebebeb;border-radius:4.5px 4.5px 4.5px 4.5px;box-sizing:border-box;box-shadow:0 1px 2px rgba(0,0,0,0.07)"></div>
<div class="t" style="left:1373.8px;top:524.09px;font-size:14.6px;color:#5e5e5e;font-weight:400;">?</div>
<svg class="a" style="left:1464.9px;top:527.1px" width="10.4" height="8" viewBox="0 0 10.4 8"><path d="M0.9 1.85 L4.6 6.1 L8.3 1.85" fill="none" stroke="#505050" stroke-width="2.2" stroke-linecap="round" stroke-linejoin="round"/></svg>
<div class="a" style="left:1519px;top:513.3px;width:122.5px;height:35.6px;background:#ececec;border-radius:4.5px 4.5px 4.5px 4.5px"></div>
<div class="t" style="left:1536.8px;top:524.09px;font-size:14.6px;color:#5e5e5e;font-weight:400;">-</div>
<svg class="a" style="left:1627.9px;top:527.1px" width="10.4" height="8" viewBox="0 0 10.4 8"><path d="M0.9 1.85 L4.6 6.1 L8.3 1.85" fill="none" stroke="#505050" stroke-width="2.2" stroke-linecap="round" stroke-linejoin="round"/></svg>
<div class="a" style="left:1682.65px;top:513.3px;width:97.6px;height:35.6px;background:#fff;border:1px solid #ebebeb;border-radius:4.5px 4.5px 4.5px 4.5px;box-sizing:border-box;box-shadow:0 1px 2px rgba(0,0,0,0.07)"></div>
<div class="t" style="left:1700.45px;top:524.09px;font-size:14.6px;color:#5e5e5e;font-weight:400;width:49.6px;overflow:hidden;white-space:nowrap;word-spacing:-0.8px;">/ - Pres</div>
<svg class="a" style="left:1766.65px;top:527.1px" width="10.4" height="8" viewBox="0 0 10.4 8"><path d="M0.9 1.85 L4.6 6.1 L8.3 1.85" fill="none" stroke="#505050" stroke-width="2.2" stroke-linecap="round" stroke-linejoin="round"/></svg>
<svg class="a" style="left:1791.15px;top:524.6px" width="16" height="15" viewBox="0 0 16 15"><ellipse cx="8.1" cy="6.5" rx="7" ry="5.85" fill="#67686d"/><path d="M2.6 9.2 Q2.6 12 0.5 13.6 Q4.2 13.4 6.4 11.7 Z" fill="#67686d"/></svg>
<div class="a" style="left:1845px;top:513.3px;width:66px;height:35.6px;background:#fff;border:1px solid #ebebeb;border-radius:4.5px 0px 0px 4.5px;box-sizing:border-box;box-shadow:0 1px 2px rgba(0,0,0,0.07);border-right:none"></div>
<div class="t" style="left:1862.8px;top:524.09px;font-size:14.6px;color:#5e5e5e;font-weight:400;">?</div>
<div class="a" style="left:272.6px;top:558.95px;width:65.4px;height:35.6px;background:#ececec;border-radius:0px 4.5px 4.5px 0px"></div>
<svg class="a" style="left:324.4px;top:572.75px" width="10.4" height="8" viewBox="0 0 10.4 8"><path d="M0.9 1.85 L4.6 6.1 L8.3 1.85" fill="none" stroke="#505050" stroke-width="2.2" stroke-linecap="round" stroke-linejoin="round"/></svg>
<div class="a" style="left:378px;top:558.95px;width:122.5px;height:35.6px;background:#fff;border:1px solid #ebebeb;border-radius:4.5px 4.5px 4.5px 4.5px;box-sizing:border-box;box-shadow:0 1px 2px rgba(0,0,0,0.07)"></div>
<div class="t" style="left:395.8px;top:569.74px;font-size:14.6px;color:#5e5e5e;font-weight:400;">?</div>
<svg class="a" style="left:486.9px;top:572.75px" width="10.4" height="8" viewBox="0 0 10.4 8"><path d="M0.9 1.85 L4.6 6.1 L8.3 1.85" fill="none" stroke="#505050" stroke-width="2.2" stroke-linecap="round" stroke-linejoin="round"/></svg>
<div class="a" style="left:541px;top:558.95px;width:122.5px;height:35.6px;background:#fff;border:1px solid #ebebeb;border-radius:4.5px 4.5px 4.5px 4.5px;box-sizing:border-box;box-shadow:0 1px 2px rgba(0,0,0,0.07)"></div>
<div class="t" style="left:558.8px;top:569.74px;font-size:14.6px;color:#5e5e5e;font-weight:400;">?</div>
<svg class="a" style="left:649.9px;top:572.75px" width="10.4" height="8" viewBox="0 0 10.4 8"><path d="M0.9 1.85 L4.6 6.1 L8.3 1.85" fill="none" stroke="#505050" stroke-width="2.2" stroke-linecap="round" stroke-linejoin="round"/></svg>
<div class="a" style="left:704px;top:558.95px;width:122.5px;height:35.6px;background:#ececec;border-radius:4.5px 4.5px 4.5px 4.5px"></div>
<div class="t" style="left:721.8px;top:569.74px;font-size:14.6px;color:#5e5e5e;font-weight:400;">-</div>
<svg class="a" style="left:812.9px;top:572.75px" width="10.4" height="8" viewBox="0 0 10.4 8"><path d="M0.9 1.85 L4.6 6.1 L8.3 1.85" fill="none" stroke="#505050" stroke-width="2.2" stroke-linecap="round" stroke-linejoin="round"/></svg>
<div class="a" style="left:867px;top:558.95px;width:122.5px;height:35.6px;background:#ececec;border-radius:4.5px 4.5px 4.5px 4.5px"></div>
<div class="t" style="left:884.8px;top:569.74px;font-size:14.6px;color:#5e5e5e;font-weight:400;">-</div>
<svg class="a" style="left:975.9px;top:572.75px" width="10.4" height="8" viewBox="0 0 10.4 8"><path d="M0.9 1.85 L4.6 6.1 L8.3 1.85" fill="none" stroke="#505050" stroke-width="2.2" stroke-linecap="round" stroke-linejoin="round"/></svg>
<div class="a" style="left:1030px;top:558.95px;width:122.5px;height:35.6px;background:#fff;border:1px solid #ebebeb;border-radius:4.5px 4.5px 4.5px 4.5px;box-sizing:border-box;box-shadow:0 1px 2px rgba(0,0,0,0.07)"></div>
<div class="t" style="left:1047.8px;top:569.74px;font-size:14.6px;color:#5e5e5e;font-weight:400;">?</div>
<svg class="a" style="left:1138.9px;top:572.75px" width="10.4" height="8" viewBox="0 0 10.4 8"><path d="M0.9 1.85 L4.6 6.1 L8.3 1.85" fill="none" stroke="#505050" stroke-width="2.2" stroke-linecap="round" stroke-linejoin="round"/></svg>
<div class="a" style="left:1193px;top:558.95px;width:122.5px;height:35.6px;background:#fff;border:1px solid #ebebeb;border-radius:4.5px 4.5px 4.5px 4.5px;box-sizing:border-box;box-shadow:0 1px 2px rgba(0,0,0,0.07)"></div>
<div class="t" style="left:1210.8px;top:569.74px;font-size:14.6px;color:#5e5e5e;font-weight:400;">?</div>
<svg class="a" style="left:1301.9px;top:572.75px" width="10.4" height="8" viewBox="0 0 10.4 8"><path d="M0.9 1.85 L4.6 6.1 L8.3 1.85" fill="none" stroke="#505050" stroke-width="2.2" stroke-linecap="round" stroke-linejoin="round"/></svg>
<div class="a" style="left:1356px;top:558.95px;width:122.5px;height:35.6px;background:#fff;border:1px solid #ebebeb;border-radius:4.5px 4.5px 4.5px 4.5px;box-sizing:border-box;box-shadow:0 1px 2px rgba(0,0,0,0.07)"></div>
<div class="t" style="left:1373.8px;top:569.74px;font-size:14.6px;color:#5e5e5e;font-weight:400;">?</div>
<svg class="a" style="left:1464.9px;top:572.75px" width="10.4" height="8" viewBox="0 0 10.4 8"><path d="M0.9 1.85 L4.6 6.1 L8.3 1.85" fill="none" stroke="#505050" stroke-width="2.2" stroke-linecap="round" stroke-linejoin="round"/></svg>
<div class="a" style="left:1519px;top:558.95px;width:122.5px;height:35.6px;background:#ececec;border-radius:4.5px 4.5px 4.5px 4.5px"></div>
<div class="t" style="left:1536.8px;top:569.74px;font-size:14.6px;color:#5e5e5e;font-weight:400;">-</div>
<svg class="a" style="left:1627.9px;top:572.75px" width="10.4" height="8" viewBox="0 0 10.4 8"><path d="M0.9 1.85 L4.6 6.1 L8.3 1.85" fill="none" stroke="#505050" stroke-width="2.2" stroke-linecap="round" stroke-linejoin="round"/></svg>
<div class="a" style="left:1682.65px;top:558.95px;width:97.6px;height:35.6px;background:#fff;border:1px solid #ebebeb;border-radius:4.5px 4.5px 4.5px 4.5px;box-sizing:border-box;box-shadow:0 1px 2px rgba(0,0,0,0.07)"></div>
<div class="t" style="left:1700.45px;top:569.74px;font-size:14.6px;color:#5e5e5e;font-weight:400;width:49.6px;overflow:hidden;white-space:nowrap;word-spacing:-0.8px;">/ - Pres</div>
<svg class="a" style="left:1766.65px;top:572.75px" width="10.4" height="8" viewBox="0 0 10.4 8"><path d="M0.9 1.85 L4.6 6.1 L8.3 1.85" fill="none" stroke="#505050" stroke-width="2.2" stroke-linecap="round" stroke-linejoin="round"/></svg>
<svg class="a" style="left:1791.15px;top:570.25px" width="16" height="15" viewBox="0 0 16 15"><ellipse cx="8.1" cy="6.5" rx="7" ry="5.85" fill="#67686d"/><path d="M2.6 9.2 Q2.6 12 0.5 13.6 Q4.2 13.4 6.4 11.7 Z" fill="#67686d"/></svg>
<div class="a" style="left:1845px;top:558.95px;width:66px;height:35.6px;background:#fff;border:1px solid #ebebeb;border-radius:4.5px 0px 0px 4.5px;box-sizing:border-box;box-shadow:0 1px 2px rgba(0,0,0,0.07);border-right:none"></div>
<div class="t" style="left:1862.8px;top:569.74px;font-size:14.6px;color:#5e5e5e;font-weight:400;">?</div>
<div class="a" style="left:272.6px;top:604.6px;width:65.4px;height:35.6px;background:#ececec;border-radius:0px 4.5px 4.5px 0px"></div>
<svg class="a" style="left:324.4px;top:618.4px" width="10.4" height="8" viewBox="0 0 10.4 8"><path d="M0.9 1.85 L4.6 6.1 L8.3 1.85" fill="none" stroke="#505050" stroke-width="2.2" stroke-linecap="round" stroke-linejoin="round"/></svg>
<div class="a" style="left:378px;top:604.6px;width:122.5px;height:35.6px;background:#fff;border:1px solid #ebebeb;border-radius:4.5px 4.5px 4.5px 4.5px;box-sizing:border-box;box-shadow:0 1px 2px rgba(0,0,0,0.07)"></div>
<div class="t" style="left:395.8px;top:615.39px;font-size:14.6px;color:#5e5e5e;font-weight:400;">?</div>
<svg class="a" style="left:486.9px;top:618.4px" width="10.4" height="8" viewBox="0 0 10.4 8"><path d="M0.9 1.85 L4.6 6.1 L8.3 1.85" fill="none" stroke="#505050" stroke-width="2.2" stroke-linecap="round" stroke-linejoin="round"/></svg>
<div class="a" style="left:541px;top:604.6px;width:122.5px;height:35.6px;background:#fff;border:1px solid #ebebeb;border-radius:4.5px 4.5px 4.5px 4.5px;box-sizing:border-box;box-shadow:0 1px 2px rgba(0,0,0,0.07)"></div>
<div class="t" style="left:558.8px;top:615.39px;font-size:14.6px;color:#5e5e5e;font-weight:400;">?</div>
<svg class="a" style="left:649.9px;top:618.4px" width="10.4" height="8" viewBox="0 0 10.4 8"><path d="M0.9 1.85 L4.6 6.1 L8.3 1.85" fill="none" stroke="#505050" stroke-width="2.2" stroke-linecap="round" stroke-linejoin="round"/></svg>
<div class="a" style="left:704px;top:604.6px;width:122.5px;height:35.6px;background:#ececec;border-radius:4.5px 4.5px 4.5px 4.5px"></div>
<div class="t" style="left:721.8px;top:615.39px;font-size:14.6px;color:#5e5e5e;font-weight:400;">-</div>
<svg class="a" style="left:812.9px;top:618.4px" width="10.4" height="8" viewBox="0 0 10.4 8"><path d="M0.9 1.85 L4.6 6.1 L8.3 1.85" fill="none" stroke="#505050" stroke-width="2.2" stroke-linecap="round" stroke-linejoin="round"/></svg>
<div class="a" style="left:867px;top:604.6px;width:122.5px;height:35.6px;background:#ececec;border-radius:4.5px 4.5px 4.5px 4.5px"></div>
<div class="t" style="left:884.8px;top:615.39px;font-size:14.6px;color:#5e5e5e;font-weight:400;">-</div>
<svg class="a" style="left:975.9px;top:618.4px" width="10.4" height="8" viewBox="0 0 10.4 8"><path d="M0.9 1.85 L4.6 6.1 L8.3 1.85" fill="none" stroke="#505050" stroke-width="2.2" stroke-linecap="round" stroke-linejoin="round"/></svg>
<div class="a" style="left:1030px;top:604.6px;width:122.5px;height:35.6px;background:#fff;border:1px solid #ebebeb;border-radius:4.5px 4.5px 4.5px 4.5px;box-sizing:border-box;box-shadow:0 1px 2px rgba(0,0,0,0.07)"></div>
<div class="t" style="left:1047.8px;top:615.39px;font-size:14.6px;color:#5e5e5e;font-weight:400;">?</div>
<svg class="a" style="left:1138.9px;top:618.4px" width="10.4" height="8" viewBox="0 0 10.4 8"><path d="M0.9 1.85 L4.6 6.1 L8.3 1.85" fill="none" stroke="#505050" stroke-width="2.2" stroke-linecap="round" stroke-linejoin="round"/></svg>
<div class="a" style="left:1193px;top:604.6px;width:122.5px;height:35.6px;background:#fff;border:1px solid #ebebeb;border-radius:4.5px 4.5px 4.5px 4.5px;box-sizing:border-box;box-shadow:0 1px 2px rgba(0,0,0,0.07)"></div>
<div class="t" style="left:1210.8px;top:615.39px;font-size:14.6px;color:#5e5e5e;font-weight:400;">?</div>
<svg class="a" style="left:1301.9px;top:618.4px" width="10.4" height="8" viewBox="0 0 10.4 8"><path d="M0.9 1.85 L4.6 6.1 L8.3 1.85" fill="none" stroke="#505050" stroke-width="2.2" stroke-linecap="round" stroke-linejoin="round"/></svg>
<div class="a" style="left:1356px;top:604.6px;width:122.5px;height:35.6px;background:#fff;border:1px solid #ebebeb;border-radius:4.5px 4.5px 4.5px 4.5px;box-sizing:border-box;box-shadow:0 1px 2px rgba(0,0,0,0.07)"></div>
<div class="t" style="left:1373.8px;top:615.39px;font-size:14.6px;color:#5e5e5e;font-weight:400;">?</div>
<svg class="a" style="left:1464.9px;top:618.4px" width="10.4" height="8" viewBox="0 0 10.4 8"><path d="M0.9 1.85 L4.6 6.1 L8.3 1.85" fill="none" stroke="#505050" stroke-width="2.2" stroke-linecap="round" stroke-linejoin="round"/></svg>
<div class="a" style="left:1519px;top:604.6px;width:122.5px;height:35.6px;background:#ececec;border-radius:4.5px 4.5px 4.5px 4.5px"></div>
<div class="t" style="left:1536.8px;top:615.39px;font-size:14.6px;color:#5e5e5e;font-weight:400;">-</div>
<svg class="a" style="left:1627.9px;top:618.4px" width="10.4" height="8" viewBox="0 0 10.4 8"><path d="M0.9 1.85 L4.6 6.1 L8.3 1.85" fill="none" stroke="#505050" stroke-width="2.2" stroke-linecap="round" stroke-linejoin="round"/></svg>
<div class="a" style="left:1682.65px;top:604.6px;width:97.6px;height:35.6px;background:#fff;border:1px solid #ebebeb;border-radius:4.5px 4.5px 4.5px 4.5px;box-sizing:border-box;box-shadow:0 1px 2px rgba(0,0,0,0.07)"></div>
<div class="t" style="left:1700.45px;top:615.39px;font-size:14.6px;color:#5e5e5e;font-weight:400;width:49.6px;overflow:hidden;white-space:nowrap;word-spacing:-0.8px;">/ - Pres</div>
<svg class="a" style="left:1766.65px;top:618.4px" width="10.4" height="8" viewBox="0 0 10.4 8"><path d="M0.9 1.85 L4.6 6.1 L8.3 1.85" fill="none" stroke="#505050" stroke-width="2.2" stroke-linecap="round" stroke-linejoin="round"/></svg>
<svg class="a" style="left:1791.15px;top:615.9px" width="16" height="15" viewBox="0 0 16 15"><ellipse cx="8.1" cy="6.5" rx="7" ry="5.85" fill="#67686d"/><path d="M2.6 9.2 Q2.6 12 0.5 13.6 Q4.2 13.4 6.4 11.7 Z" fill="#67686d"/></svg>
<div class="a" style="left:1845px;top:604.6px;width:66px;height:35.6px;background:#fff;border:1px solid #ebebeb;border-radius:4.5px 0px 0px 4.5px;box-sizing:border-box;box-shadow:0 1px 2px rgba(0,0,0,0.07);border-right:none"></div>
<div class="t" style="left:1862.8px;top:615.39px;font-size:14.6px;color:#5e5e5e;font-weight:400;">?</div>
<div class="a" style="left:272.6px;top:650.25px;width:65.4px;height:35.6px;background:#ececec;border-radius:0px 4.5px 4.5px 0px"></div>
<svg class="a" style="left:324.4px;top:664.05px" width="10.4" height="8" viewBox="0 0 10.4 8"><path d="M0.9 1.85 L4.6 6.1 L8.3 1.85" fill="none" stroke="#505050" stroke-width="2.2" stroke-linecap="round" stroke-linejoin="round"/></svg>
<div class="a" style="left:378px;top:650.25px;width:122.5px;height:35.6px;background:#fff;border:1px solid #ebebeb;border-radius:4.5px 4.5px 4.5px 4.5px;box-sizing:border-box;box-shadow:0 1px 2px rgba(0,0,0,0.07)"></div>
<div class="t" style="left:395.8px;top:661.04px;font-size:14.6px;color:#5e5e5e;font-weight:400;">?</div>
<svg class="a" style="left:486.9px;top:664.05px" width="10.4" height="8" viewBox="0 0 10.4 8"><path d="M0.9 1.85 L4.6 6.1 L8.3 1.85" fill="none" stroke="#505050" stroke-width="2.2" stroke-linecap="round" stroke-linejoin="round"/></svg>
<div class="a" style="left:541px;top:650.25px;width:122.5px;height:35.6px;background:#fff;border:1px solid #ebebeb;border-radius:4.5px 4.5px 4.5px 4.5px;box-sizing:border-box;box-shadow:0 1px 2px rgba(0,0,0,0.07)"></div>
<div class="t" style="left:558.8px;top:661.04px;font-size:14.6px;color:#5e5e5e;font-weight:400;">?</div>
<svg class="a" style="left:649.9px;top:664.05px" width="10.4" height="8" viewBox="0 0 10.4 8"><path d="M0.9 1.85 L4.6 6.1 L8.3 1.85" fill="none" stroke="#505050" stroke-width="2.2" stroke-linecap="round" stroke-linejoin="round"/></svg>
<div class="a" style="left:704px;top:650.25px;width:122.5px;height:35.6px;background:#ececec;border-radius:4.5px 4.5px 4.5px 4.5px"></div>
<div class="t" style="left:721.8px;top:661.04px;font-size:14.6px;color:#5e5e5e;font-weight:400;">-</div>
<svg class="a" style="left:812.9px;top:664.05px" width="10.4" height="8" viewBox="0 0 10.4 8"><path d="M0.9 1.85 L4.6 6.1 L8.3 1.85" fill="none" stroke="#505050" stroke-width="2.2" stroke-linecap="round" stroke-linejoin="round"/></svg>
<div class="a" style="left:867px;top:650.25px;width:122.5px;height:35.6px;background:#ececec;border-radius:4.5px 4.5px 4.5px 4.5px"></div>
<div class="t" style="left:884.8px;top:661.04px;font-size:14.6px;color:#5e5e5e;font-weight:400;">-</div>
<svg class="a" style="left:975.9px;top:664.05px" width="10.4" height="8" viewBox="0 0 10.4 8"><path d="M0.9 1.85 L4.6 6.1 L8.3 1.85" fill="none" stroke="#505050" stroke-width="2.2" stroke-linecap="round" stroke-linejoin="round"/></svg>
<div class="a" style="left:1030px;top:650.25px;width:122.5px;height:35.6px;background:#fff;border:1px solid #ebebeb;border-radius:4.5px 4.5px 4.5px 4.5px;box-sizing:border-box;box-shadow:0 1px 2px rgba(0,0,0,0.07)"></div>
<div class="t" style="left:1047.8px;top:661.04px;font-size:14.6px;color:#5e5e5e;font-weight:400;">?</div>
<svg class="a" style="left:1138.9px;top:664.05px" width="10.4" height="8" viewBox="0 0 10.4 8"><path d="M0.9 1.85 L4.6 6.1 L8.3 1.85" fill="none" stroke="#505050" stroke-width="2.2" stroke-linecap="round" stroke-linejoin="round"/></svg>
<div class="a" style="left:1193px;top:650.25px;width:122.5px;height:35.6px;background:#fff;border:1px solid #ebebeb;border-radius:4.5px 4.5px 4.5px 4.5px;box-sizing:border-box;box-shadow:0 1px 2px rgba(0,0,0,0.07)"></div>
<div class="t" style="left:1210.8px;top:661.04px;font-size:14.6px;color:#5e5e5e;font-weight:400;">?</div>
<svg class="a" style="left:1301.9px;top:664.05px" width="10.4" height="8" viewBox="0 0 10.4 8"><path d="M0.9 1.85 L4.6 6.1 L8.3 1.85" fill="none" stroke="#505050" stroke-width="2.2" stroke-linecap="round" stroke-linejoin="round"/></svg>
<div class="a" style="left:1356px;top:650.25px;width:122.5px;height:35.6px;background:#fff;border:1px solid #ebebeb;border-radius:4.5px 4.5px 4.5px 4.5px;box-sizing:border-box;box-shadow:0 1px 2px rgba(0,0,0,0.07)"></div>
<div class="t" style="left:1373.8px;top:661.04px;font-size:14.6px;color:#5e5e5e;font-weight:400;">?</div>
<svg class="a" style="left:1464.9px;top:664.05px" width="10.4" height="8" viewBox="0 0 10.4 8"><path d="M0.9 1.85 L4.6 6.1 L8.3 1.85" fill="none" stroke="#505050" stroke-width="2.2" stroke-linecap="round" stroke-linejoin="round"/></svg>
<div class="a" style="left:1519px;top:650.25px;width:122.5px;height:35.6px;background:#ececec;border-radius:4.5px 4.5px 4.5px 4.5px"></div>
<div class="t" style="left:1536.8px;top:661.04px;font-size:14.6px;color:#5e5e5e;font-weight:400;">-</div>
<svg class="a" style="left:1627.9px;top:664.05px" width="10.4" height="8" viewBox="0 0 10.4 8"><path d="M0.9 1.85 L4.6 6.1 L8.3 1.85" fill="none" stroke="#505050" stroke-width="2.2" stroke-linecap="round" stroke-linejoin="round"/></svg>
<div class="a" style="left:1682.65px;top:650.25px;width:97.6px;height:35.6px;background:#fff;border:1px solid #ebebeb;border-radius:4.5px 4.5px 4.5px 4.5px;box-sizing:border-box;box-shadow:0 1px 2px rgba(0,0,0,0.07)"></div>
<div class="t" style="left:1700.45px;top:661.04px;font-size:14.6px;color:#5e5e5e;font-weight:400;width:49.6px;overflow:hidden;white-space:nowrap;word-spacing:-0.8px;">/ - Pres</div>
<svg class="a" style="left:1766.65px;top:664.05px" width="10.4" height="8" viewBox="0 0 10.4 8"><path d="M0.9 1.85 L4.6 6.1 L8.3 1.85" fill="none" stroke="#505050" stroke-width="2.2" stroke-linecap="round" stroke-linejoin="round"/></svg>
<svg class="a" style="left:1791.15px;top:661.55px" width="16" height="15" viewBox="0 0 16 15"><ellipse cx="8.1" cy="6.5" rx="7" ry="5.85" fill="#67686d"/><path d="M2.6 9.2 Q2.6 12 0.5 13.6 Q4.2 13.4 6.4 11.7 Z" fill="#67686d"/></svg>
<div class="a" style="left:1845px;top:650.25px;width:66px;height:35.6px;background:#fff;border:1px solid #ebebeb;border-radius:4.5px 0px 0px 4.5px;box-sizing:border-box;box-shadow:0 1px 2px rgba(0,0,0,0.07);border-right:none"></div>
<div class="t" style="left:1862.8px;top:661.04px;font-size:14.6px;color:#5e5e5e;font-weight:400;">?</div>
<svg class="a" style="left:20.6px;top:70px" width="17.4" height="17.2" viewBox="0 0 17.4 17.2"><rect x="0" y="0" width="17.4" height="17.2" rx="2.2" fill="#2196f3"/><path d="M2.9 8.8 L7.1 13 L15 4.2" fill="none" stroke="#fff" stroke-width="1.9"/></svg>
<svg class="a" style="left:51px;top:61.35px" width="34.5" height="34.5" viewBox="0 0 34.5 34.5"><defs><clipPath id="cp1"><circle cx="17.25" cy="17.25" r="16.4"/></clipPath></defs><circle cx="17.25" cy="17.25" r="17.25" fill="#9b9b9b"/><g clip-path="url(#cp1)"><circle cx="17.2" cy="10.9" r="7.1" fill="#fff"/><rect x="6.7" y="19.4" width="21.2" height="22" rx="9" fill="#fff"/></g></svg>
<div class="t" style="left:91.9px;top:71.86px;font-size:13.4px;color:#555555;font-weight:400;">BAKER, Jessica</div>
<div class="a" style="left:20.6px;top:115.65px;width:17.4px;height:17.2px;border:1.8px solid #858585;background:#fff;border-radius:2.2px;box-sizing:border-box"></div>
<svg class="a" style="left:51px;top:107px" width="34.5" height="34.5" viewBox="0 0 34.5 34.5"><defs><clipPath id="cp2"><circle cx="17.25" cy="17.25" r="16.4"/></clipPath></defs><circle cx="17.25" cy="17.25" r="17.25" fill="#9b9b9b"/><g clip-path="url(#cp2)"><circle cx="17.2" cy="10.9" r="7.1" fill="#fff"/><rect x="6.7" y="19.4" width="21.2" height="22" rx="9" fill="#fff"/></g></svg>
<div class="t" style="left:91.9px;top:117.51px;font-size:13.4px;color:#555555;font-weight:400;">BEAL, Tracey</div>
<div class="a" style="left:20.6px;top:161.3px;width:17.4px;height:17.2px;border:1.8px solid #858585;background:#fff;border-radius:2.2px;box-sizing:border-box"></div>
<svg class="a" style="left:51px;top:152.65px" width="34.5" height="34.5" viewBox="0 0 34.5 34.5"><defs><clipPath id="cp3"><circle cx="17.25" cy="17.25" r="16.4"/></clipPath></defs><circle cx="17.25" cy="17.25" r="17.25" fill="#9b9b9b"/><g clip-path="url(#cp3)"><circle cx="17.2" cy="10.9" r="7.1" fill="#fff"/><rect x="6.7" y="19.4" width="21.2" height="22" rx="9" fill="#fff"/></g></svg>
<div class="t" style="left:91.9px;top:163.16px;font-size:13.4px;color:#555555;font-weight:400;">BROWN, Piper</div>
<div class="a" style="left:20.6px;top:206.95px;width:17.4px;height:17.2px;border:1.8px solid #858585;background:#fff;border-radius:2.2px;box-sizing:border-box"></div>
<svg class="a" style="left:51px;top:198.3px" width="34.5" height="34.5" viewBox="0 0 34.5 34.5"><defs><clipPath id="cp4"><circle cx="17.25" cy="17.25" r="16.4"/></clipPath></defs><circle cx="17.25" cy="17.25" r="17.25" fill="#9b9b9b"/><g clip-path="url(#cp4)"><circle cx="17.2" cy="10.9" r="7.1" fill="#fff"/><rect x="6.7" y="19.4" width="21.2" height="22" rx="9" fill="#fff"/></g></svg>
<div class="t" style="left:91.9px;top:208.81px;font-size:13.4px;color:#555555;font-weight:400;">BUTLER, Kieran</div>
<div class="a" style="left:20.6px;top:252.6px;width:17.4px;height:17.2px;border:1.8px solid #858585;background:#fff;border-radius:2.2px;box-sizing:border-box"></div>
<svg class="a" style="left:51px;top:243.95px" width="34.5" height="34.5" viewBox="0 0 34.5 34.5"><defs><clipPath id="cp5"><circle cx="17.25" cy="17.25" r="16.4"/></clipPath></defs><circle cx="17.25" cy="17.25" r="17.25" fill="#9b9b9b"/><g clip-path="url(#cp5)"><circle cx="17.2" cy="10.9" r="7.1" fill="#fff"/><rect x="6.7" y="19.4" width="21.2" height="22" rx="9" fill="#fff"/></g></svg>
<div class="t" style="left:91.9px;top:254.46px;font-size:13.4px;color:#555555;font-weight:400;">CHRISTIAN, Gareth</div>
<div class="a" style="left:20.6px;top:298.25px;width:17.4px;height:17.2px;border:1.8px solid #858585;background:#fff;border-radius:2.2px;box-sizing:border-box"></div>
<svg class="a" style="left:51px;top:289.6px" width="34.5" height="34.5" viewBox="0 0 34.5 34.5"><defs><clipPath id="cp6"><circle cx="17.25" cy="17.25" r="16.4"/></clipPath></defs><circle cx="17.25" cy="17.25" r="17.25" fill="#9b9b9b"/><g clip-path="url(#cp6)"><circle cx="17.2" cy="10.9" r="7.1" fill="#fff"/><rect x="6.7" y="19.4" width="21.2" height="22" rx="9" fill="#fff"/></g></svg>
<div class="t" style="left:91.9px;top:300.11px;font-size:13.4px;color:#555555;font-weight:400;">FENTON, Neil</div>
<div class="a" style="left:20.6px;top:343.9px;width:17.4px;height:17.2px;border:1.8px solid #858585;background:#fff;border-radius:2.2px;box-sizing:border-box"></div>
<svg class="a" style="left:51px;top:335.25px" width="34.5" height="34.5" viewBox="0 0 34.5 34.5"><defs><clipPath id="cp7"><circle cx="17.25" cy="17.25" r="16.4"/></clipPath></defs><circle cx="17.25" cy="17.25" r="17.25" fill="#9b9b9b"/><g clip-path="url(#cp7)"><circle cx="17.2" cy="10.9" r="7.1" fill="#fff"/><rect x="6.7" y="19.4" width="21.2" height="22" rx="9" fill="#fff"/></g></svg>
<div class="t" style="left:91.9px;top:345.76px;font-size:13.4px;color:#555555;font-weight:400;">GASKILL, Macy</div>
<div class="a" style="left:20.6px;top:389.55px;width:17.4px;height:17.2px;border:1.8px solid #858585;background:#fff;border-radius:2.2px;box-sizing:border-box"></div>
<svg class="a" style="left:51px;top:380.9px" width="34.5" height="34.5" viewBox="0 0 34.5 34.5"><defs><clipPath id="cp8"><circle cx="17.25" cy="17.25" r="16.4"/></clipPath></defs><circle cx="17.25" cy="17.25" r="17.25" fill="#9b9b9b"/><g clip-path="url(#cp8)"><circle cx="17.2" cy="10.9" r="7.1" fill="#fff"/><rect x="6.7" y="19.4" width="21.2" height="22" rx="9" fill="#fff"/></g></svg>
<div class="t" style="left:91.9px;top:391.41px;font-size:13.4px;color:#555555;font-weight:400;">HINCHLEY, Karen</div>
<div class="a" style="left:20.6px;top:435.2px;width:17.4px;height:17.2px;border:1.8px solid #858585;background:#fff;border-radius:2.2px;box-sizing:border-box"></div>
<svg class="a" style="left:51px;top:426.55px" width="34.5" height="34.5" viewBox="0 0 34.5 34.5"><defs><clipPath id="cp9"><circle cx="17.25" cy="17.25" r="16.4"/></clipPath></defs><circle cx="17.25" cy="17.25" r="17.25" fill="#9b9b9b"/><g clip-path="url(#cp9)"><circle cx="17.2" cy="10.9" r="7.1" fill="#fff"/><rect x="6.7" y="19.4" width="21.2" height="22" rx="9" fill="#fff"/></g></svg>
<div class="t" style="left:91.9px;top:437.06px;font-size:13.4px;color:#555555;font-weight:400;">HYLAND, Paulina</div>
<div class="a" style="left:20.6px;top:480.85px;width:17.4px;height:17.2px;border:1.8px solid #858585;background:#fff;border-radius:2.2px;box-sizing:border-box"></div>
<svg class="a" style="left:51px;top:472.2px" width="34.5" height="34.5" viewBox="0 0 34.5 34.5"><defs><clipPath id="cp10"><circle cx="17.25" cy="17.25" r="16.4"/></clipPath></defs><circle cx="17.25" cy="17.25" r="17.25" fill="#9b9b9b"/><g clip-path="url(#cp10)"><circle cx="17.2" cy="10.9" r="7.1" fill="#fff"/><rect x="6.7" y="19.4" width="21.2" height="22" rx="9" fill="#fff"/></g></svg>
<div class="t" style="left:91.9px;top:482.71px;font-size:13.4px;color:#555555;font-weight:400;">INGLE, Aimee</div>
<div class="a" style="left:20.6px;top:526.5px;width:17.4px;height:17.2px;border:1.8px solid #858585;background:#fff;border-radius:2.2px;box-sizing:border-box"></div>
<svg class="a" style="left:51px;top:517.85px" width="34.5" height="34.5" viewBox="0 0 34.5 34.5"><defs><clipPath id="cp11"><circle cx="17.25" cy="17.25" r="16.4"/></clipPath></defs><circle cx="17.25" cy="17.25" r="17.25" fill="#9b9b9b"/><g clip-path="url(#cp11)"><circle cx="17.2" cy="10.9" r="7.1" fill="#fff"/><rect x="6.7" y="19.4" width="21.2" height="22" rx="9" fill="#fff"/></g></svg>
<div class="t" style="left:91.9px;top:528.36px;font-size:13.4px;color:#555555;font-weight:400;">LEECH, Joshua</div>
<div class="a" style="left:20.6px;top:572.15px;width:17.4px;height:17.2px;border:1.8px solid #858585;background:#fff;border-radius:2.2px;box-sizing:border-box"></div>
<svg class="a" style="left:51px;top:563.5px" width="34.5" height="34.5" viewBox="0 0 34.5 34.5"><defs><clipPath id="cp12"><circle cx="17.25" cy="17.25" r="16.4"/></clipPath></defs><circle cx="17.25" cy="17.25" r="17.25" fill="#9b9b9b"/><g clip-path="url(#cp12)"><circle cx="17.2" cy="10.9" r="7.1" fill="#fff"/><rect x="6.7" y="19.4" width="21.2" height="22" rx="9" fill="#fff"/></g></svg>
<div class="t" style="left:91.9px;top:574.01px;font-size:13.4px;color:#555555;font-weight:400;">SAMRA, Isaac</div>
<div class="a" style="left:20.6px;top:617.8px;width:17.4px;height:17.2px;border:1.8px solid #858585;background:#fff;border-radius:2.2px;box-sizing:border-box"></div>
<svg class="a" style="left:51px;top:609.15px" width="34.5" height="34.5" viewBox="0 0 34.5 34.5"><defs><clipPath id="cp13"><circle cx="17.25" cy="17.25" r="16.4"/></clipPath></defs><circle cx="17.25" cy="17.25" r="17.25" fill="#9b9b9b"/><g clip-path="url(#cp13)"><circle cx="17.2" cy="10.9" r="7.1" fill="#fff"/><rect x="6.7" y="19.4" width="21.2" height="22" rx="9" fill="#fff"/></g></svg>
<div class="t" style="left:91.9px;top:619.66px;font-size:13.4px;color:#555555;font-weight:400;">SHARPE, Anna</div>
<div class="a" style="left:20.6px;top:663.45px;width:17.4px;height:17.2px;border:1.8px solid #858585;background:#fff;border-radius:2.2px;box-sizing:border-box"></div>
<svg class="a" style="left:51px;top:654.8px" width="34.5" height="34.5" viewBox="0 0 34.5 34.5"><defs><clipPath id="cp14"><circle cx="17.25" cy="17.25" r="16.4"/></clipPath></defs><circle cx="17.25" cy="17.25" r="17.25" fill="#9b9b9b"/><g clip-path="url(#cp14)"><circle cx="17.2" cy="10.9" r="7.1" fill="#fff"/><rect x="6.7" y="19.4" width="21.2" height="22" rx="9" fill="#fff"/></g></svg>
<div class="t" style="left:91.9px;top:665.31px;font-size:13.4px;color:#555555;font-weight:400;">STOKER, Michala</div>
<div class="a" style="left:0px;top:669.2px;width:1927.5px;height:17px;background:#fafafa"></div>
<div class="a" style="left:1911px;top:54.7px;width:16.5px;height:614.5px;background:#fafafa"></div>
<svg class="a" style="left:1912.5px;top:64.2px" width="13" height="8" viewBox="0 0 13 8"><path d="M1.2 6.7 L6.3 1.3 L11.3 6.7 Z" fill="#8f8f8f"/></svg>
<svg class="a" style="left:1912.5px;top:651.2px" width="13" height="8" viewBox="0 0 13 8"><path d="M1.2 1.3 L6.3 6.7 L11.3 1.3 Z" fill="#8f8f8f"/></svg>
<div class="a" style="left:1914.1px;top:79.7px;width:9.4px;height:475.5px;background:#8c8c8c;border-radius:5px"></div>
<svg class="a" style="left:10px;top:671.7px" width="8" height="12" viewBox="0 0 8 12"><path d="M6.5 1 L1.2 6 L6.5 11 Z" fill="#8f8f8f"/></svg>
<svg class="a" style="left:255px;top:671.7px" width="8" height="12" viewBox="0 0 8 12"><path d="M1.5 1 L6.8 6 L1.5 11 Z" fill="#8f8f8f"/></svg>
<svg class="a" style="left:281.5px;top:671.7px" width="8" height="12" viewBox="0 0 8 12"><path d="M6.5 1 L1.2 6 L6.5 11 Z" fill="#8f8f8f"/></svg>
<svg class="a" style="left:1894.5px;top:671.7px" width="8" height="12" viewBox="0 0 8 12"><path d="M1.5 1 L6.8 6 L1.5 11 Z" fill="#8f8f8f"/></svg>
<div class="a" style="left:781.5px;top:673.2px;width:885.5px;height:9px;background:#8c8c8c;border-radius:4.5px"></div>
<div class="a" style="left:0px;top:53.4px;width:1927.5px;height:1.5px;background:#cdd2da"></div>
<div class="a" style="left:20.5px;top:19.2px;width:17.2px;height:16.7px;background:#9e9e9e;border-radius:2.2px"></div>
<div class="a" style="left:24px;top:26.5px;width:9.8px;height:2px;background:#fff"></div>
<div class="t" style="left:57.8px;top:21.04px;font-size:13.3px;color:#4a5568;font-weight:400;letter-spacing:-0.15px;">Student Name</div>
<div class="t" style="left:377.55px;top:20.79px;font-size:13.6px;color:#4a5568;font-weight:400;">1</div>
<div class="t" style="left:540.55px;top:20.79px;font-size:13.6px;color:#4a5568;font-weight:400;">2</div>
<div class="t" style="left:703.55px;top:20.79px;font-size:13.6px;color:#4a5568;font-weight:400;">TG1</div>
<div class="t" style="left:866.55px;top:20.79px;font-size:13.6px;color:#4a5568;font-weight:400;">TG2</div>
<div class="t" style="left:1029.55px;top:20.79px;font-size:13.6px;color:#4a5568;font-weight:400;">3</div>
<div class="t" style="left:1192.55px;top:20.79px;font-size:13.6px;color:#4a5568;font-weight:400;">4a</div>
<div class="t" style="left:1355.55px;top:20.79px;font-size:13.6px;color:#4a5568;font-weight:400;">4b</div>
<div class="t" style="left:1518.55px;top:20.79px;font-size:13.6px;color:#4a5568;font-weight:400;">PM</div>
<div class="t" style="left:1681.55px;top:20.79px;font-size:13.6px;color:#4a5568;font-weight:400;">4c</div>
<div class="t" style="left:1844.55px;top:20.79px;font-size:13.6px;color:#4a5568;font-weight:400;">5</div>
<div class="a" style="left:355.6px;top:20px;width:1.3px;height:14.9px;background:#d5dbe3"></div>
<div class="a" style="left:518.6px;top:20px;width:1.3px;height:14.9px;background:#d5dbe3"></div>
<div class="a" style="left:681.6px;top:20px;width:1.3px;height:14.9px;background:#d5dbe3"></div>
<div class="a" style="left:844.6px;top:20px;width:1.3px;height:14.9px;background:#d5dbe3"></div>
<div class="a" style="left:1007.6px;top:20px;width:1.3px;height:14.9px;background:#d5dbe3"></div>
<div class="a" style="left:1170.6px;top:20px;width:1.3px;height:14.9px;background:#d5dbe3"></div>
<div class="a" style="left:1333.6px;top:20px;width:1.3px;height:14.9px;background:#d5dbe3"></div>
<div class="a" style="left:1496.6px;top:20px;width:1.3px;height:14.9px;background:#d5dbe3"></div>
<div class="a" style="left:1659.6px;top:20px;width:1.3px;height:14.9px;background:#d5dbe3"></div>
<div class="a" style="left:1822.6px;top:20px;width:1.3px;height:14.9px;background:#d5dbe3"></div>
<div class="a" style="left:271.6px;top:0px;width:1.1px;height:686.2px;background:#b9c0cc"></div>
</div>
<div class="a" style="left:37.5px;top:212.8px;width:1927.5px;height:686.2px;border:1.5px solid #d7dee8;border-radius:8px;box-sizing:border-box"></div>
<div class="a" style="left:1042.3px;top:212.8px;width:497.5px;height:50.6px;border:2.5px solid #ff2400;box-sizing:border-box"></div>
</body></html>
